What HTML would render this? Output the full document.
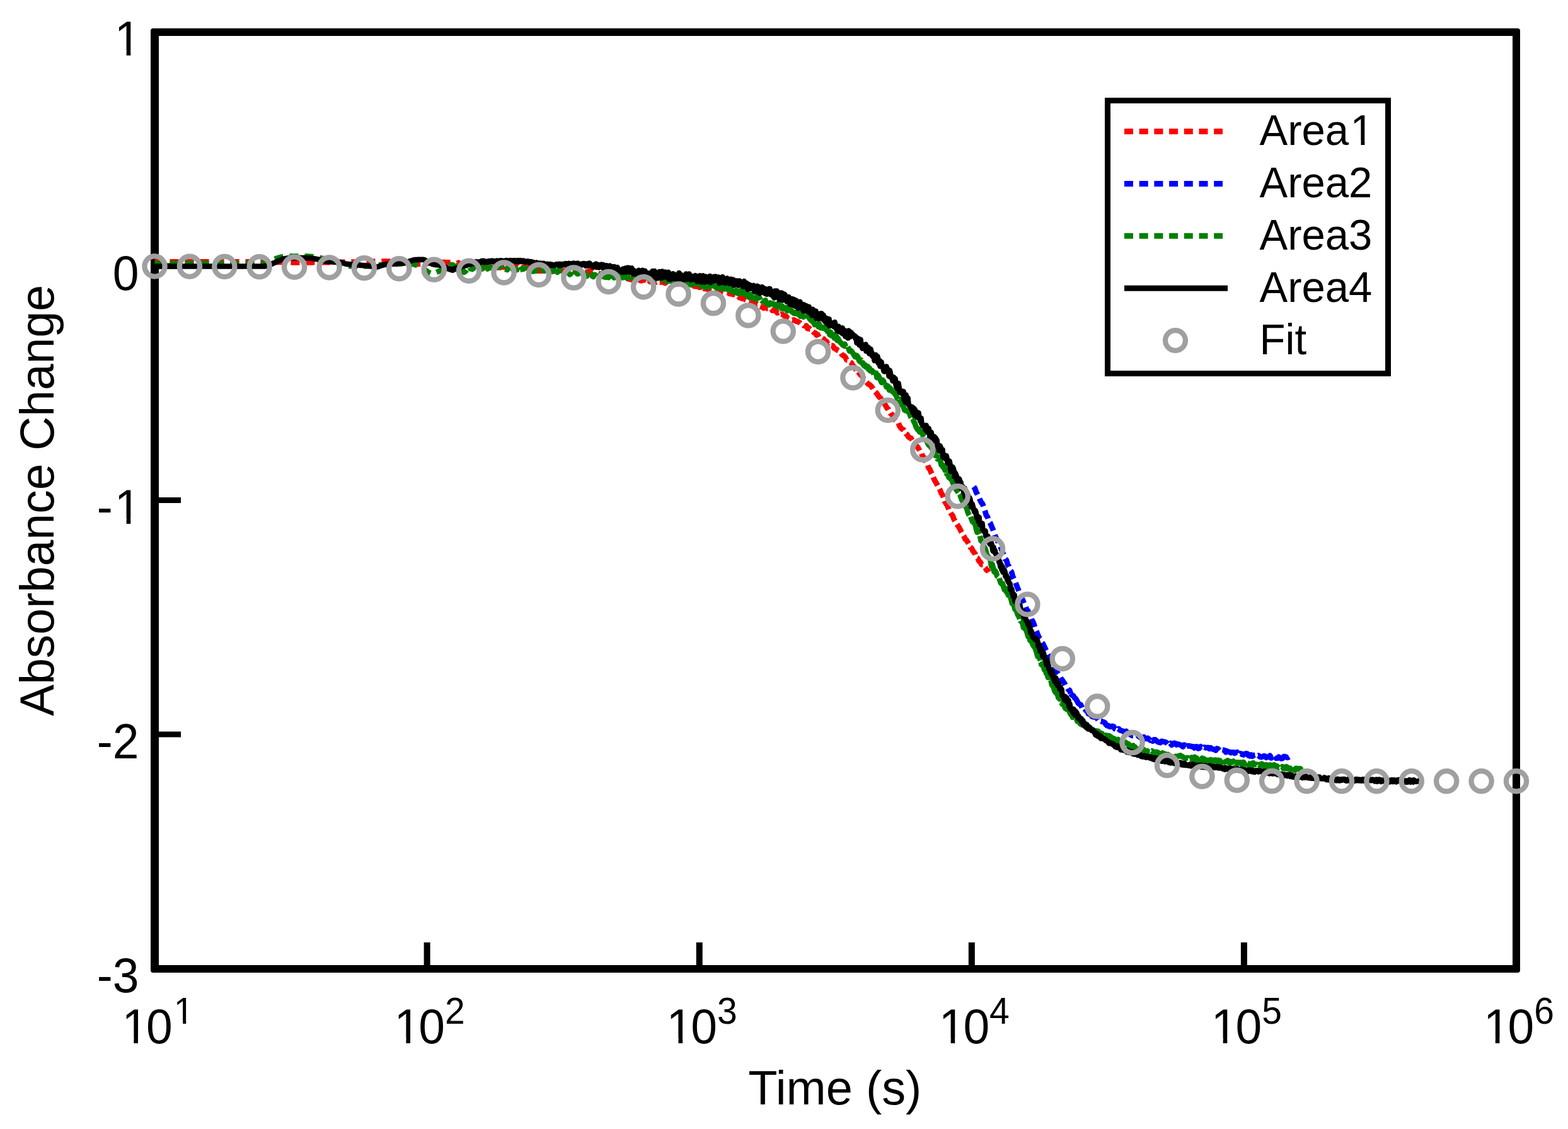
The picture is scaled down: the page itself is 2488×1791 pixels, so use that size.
<!DOCTYPE html>
<html><head><meta charset="utf-8"><title>Absorbance Change vs Time</title>
<style>
html,body{margin:0;padding:0;background:#fff;}
body{width:2488px;height:1791px;overflow:hidden;}
svg{display:block;}
text{font-family:"Liberation Sans",Arial,sans-serif;fill:#000;}
</style></head><body>
<svg width="2488" height="1791" viewBox="0 0 2488 1791">
<rect x="0" y="0" width="2488" height="1791" fill="#fff"/>

<path fill="#000" fill-rule="evenodd" d="M243,45 H2408 Q2412,45 2412,49 V1539 Q2412,1543 2408,1543 H243 Q239,1543 239,1539 V49 Q239,45 243,45 Z M252,57 V1531 H2400 V57 Z"/>
<rect x="250" y="417.5" width="37" height="9" fill="#000"/>
<rect x="250" y="789.0" width="37" height="9" fill="#000"/>
<rect x="250" y="1160.5" width="37" height="9" fill="#000"/>
<rect x="672.6" y="1495" width="10" height="38" fill="#000"/>
<rect x="1104.7" y="1495" width="10" height="38" fill="#000"/>
<rect x="1536.8" y="1495" width="10" height="38" fill="#000"/>
<rect x="1968.9" y="1495" width="10" height="38" fill="#000"/>
<g fill="none" stroke-width="8.7" stroke-linejoin="round" stroke-linecap="butt">
<polyline stroke="#ff0000" stroke-dasharray="14 10" points="245.5,415.3 247.5,415.3 249.5,415.3 251.5,415.3 253.5,415.3 255.5,415.3 257.5,415.3 259.5,415.3 261.5,415.3 263.5,415.3 265.5,415.3 267.5,415.3 269.5,415.3 271.5,415.3 273.5,415.3 275.5,415.3 277.5,415.3 279.5,415.3 281.5,415.3 283.5,415.3 285.5,415.3 287.5,415.3 289.5,415.3 291.5,415.3 293.5,415.3 295.5,415.3 297.5,415.3 299.5,415.3 301.5,415.3 303.5,415.3 305.5,415.3 307.5,415.3 309.5,415.3 311.5,415.3 313.5,415.3 315.5,415.3 317.5,415.3 319.5,415.3 321.5,415.3 323.5,415.3 325.5,415.3 327.5,415.3 329.5,415.3 331.5,415.3 333.5,415.3 335.5,415.3 337.5,415.3 339.5,415.4 341.5,415.4 343.5,415.4 345.5,415.4 347.5,415.4 349.5,415.4 351.5,415.4 353.5,415.4 355.5,415.4 357.5,415.4 359.5,415.4 361.5,415.4 363.5,415.4 365.5,415.4 367.5,415.4 369.5,415.4 371.5,415.4 373.5,415.4 375.5,415.4 377.5,415.4 379.5,415.4 381.5,415.4 383.5,415.4 385.5,415.4 387.5,415.4 389.5,415.4 391.5,415.4 393.5,415.4 395.5,415.4 397.5,415.4 399.5,415.5 401.5,415.5 403.5,415.5 405.5,415.5 407.5,415.5 409.5,415.5 411.5,415.5 413.5,415.5 415.5,415.5 417.5,415.5 419.5,415.5 421.5,415.5 423.5,415.5 425.5,415.5 427.5,415.6 429.5,415.6 431.5,415.6 433.5,415.7 435.5,415.7 437.5,415.7 439.5,415.8 441.5,415.8 443.5,415.9 445.5,415.9 447.5,416.0 449.5,416.0 451.5,416.1 453.5,416.1 455.5,416.1 457.5,416.2 459.5,416.2 461.5,416.2 463.5,416.3 465.5,416.3 467.5,416.3 469.5,416.3 471.5,416.3 473.5,416.3 475.5,416.3 477.5,416.3 479.5,416.3 481.5,416.3 483.5,416.3 485.5,416.3 487.5,416.3 489.5,416.3 491.5,416.3 493.5,416.3 495.5,416.3 497.5,416.2 499.5,416.2 501.5,416.2 503.5,416.2 505.5,416.2 507.5,416.2 509.5,416.2 511.5,416.2 513.5,416.2 515.5,416.2 517.5,416.1 519.5,416.1 521.5,416.1 523.5,416.1 525.5,416.1 527.5,416.1 529.5,416.1 531.5,416.1 533.5,416.0 535.5,416.0 537.5,416.0 539.5,416.0 541.5,416.0 543.5,416.0 545.5,415.9 547.5,415.9 549.5,415.9 551.5,415.8 553.5,415.8 555.5,415.8 557.5,415.7 559.5,415.7 561.5,415.6 563.5,415.6 565.5,415.5 567.5,415.5 569.5,415.4 571.5,415.3 573.5,415.3 575.5,415.2 577.5,415.2 579.5,415.1 581.5,415.1 583.5,415.0 585.5,414.9 587.5,414.9 589.5,414.8 591.5,414.8 593.5,414.8 595.5,414.7 597.5,414.7 599.5,414.6 601.5,414.6 603.5,414.6 605.5,414.5 607.5,414.5 609.5,414.5 611.5,414.5 613.5,414.5 615.5,414.5 617.5,414.6 619.5,414.7 621.5,414.8 623.5,415.0 625.5,415.2 627.5,415.4 629.5,415.7 631.5,416.0 633.5,416.2 635.5,416.5 637.5,416.8 639.5,417.1 641.5,417.4 643.5,417.7 645.5,417.9 647.5,418.2 649.5,418.4 651.5,418.6 653.5,418.8 655.5,418.9 657.5,419.0 659.5,419.0 661.5,419.0 663.5,418.9 665.5,418.8 667.5,418.7 669.5,418.6 671.5,418.4 673.5,418.2 675.5,418.0 677.5,417.8 679.5,417.6 681.5,417.3 683.5,417.1 685.5,416.9 687.5,416.7 689.5,416.5 691.5,416.3 693.5,416.2 695.5,416.1 697.5,416.0 699.5,416.0 701.5,416.0 703.5,416.0 705.5,416.2 707.5,416.2 709.5,416.6 711.5,416.1 713.5,416.7 715.5,416.6 717.5,416.7 719.5,416.8 721.5,417.9 723.5,417.0 725.5,417.9 727.5,416.8 729.5,419.0 731.5,418.9 733.5,418.8 735.5,418.6 737.5,418.5 739.5,418.9 741.5,419.9 743.5,419.8 745.5,421.2 747.5,419.8 749.5,421.8 751.5,420.4 753.5,420.3 755.5,420.5 757.5,421.2 759.5,423.4 761.5,423.3 763.5,423.3 765.5,422.2 767.5,422.0 769.5,422.6 771.5,423.5 773.5,422.1 775.5,423.2 777.5,422.8 779.5,424.0 781.5,423.7 783.5,422.2 785.5,422.8 787.5,424.3 789.5,424.5 791.5,423.4 793.5,424.4 795.5,422.6 797.5,423.2 799.5,423.9 801.5,422.1 803.5,423.6 805.5,424.6 807.5,422.7 809.5,422.1 811.5,424.0 813.5,424.1 815.5,422.9 817.5,423.2 819.5,423.3 821.5,422.5 823.5,424.5 825.5,423.0 827.5,424.7 829.5,424.4 831.5,422.9 833.5,425.0 835.5,423.5 837.5,425.3 839.5,424.0 841.5,425.9 843.5,425.9 845.5,426.6 847.5,427.7 849.5,428.1 851.5,426.5 853.5,427.2 855.5,430.0 857.5,428.6 859.5,429.9 861.5,429.2 863.5,430.0 865.5,428.0 867.5,429.4 869.5,430.2 871.5,429.2 873.5,430.2 875.5,430.6 877.5,430.6 879.5,428.9 881.5,431.0 883.5,430.1 885.5,428.9 887.5,430.8 889.5,429.2 891.5,429.5 893.5,429.8 895.5,430.1 897.5,429.1 899.5,431.2 901.5,431.1 903.5,429.6 905.5,431.6 907.5,429.0 909.5,429.2 911.5,431.2 913.5,429.6 915.5,429.6 917.5,429.1 919.5,430.1 921.5,429.4 923.5,431.1 925.5,429.3 927.5,430.7 929.5,432.1 931.5,431.3 933.5,430.7 935.5,430.2 937.5,432.9 939.5,430.3 941.5,432.0 943.5,431.8 945.5,433.3 947.5,433.0 949.5,434.4 951.5,434.7 953.5,434.4 955.5,434.0 957.5,434.5 959.5,436.0"/>
<polyline stroke="#ff0000" stroke-dasharray="15 6" points="959.5,436.0 961.5,435.8 963.5,436.3 965.5,437.2 967.5,435.9 969.5,437.7 971.5,437.8 973.5,437.1 975.5,438.6 977.5,437.0 979.5,437.2 981.5,440.1 983.5,440.8 985.5,439.5 987.5,439.7 989.5,439.6 991.5,442.1 993.5,440.3 995.5,441.8 997.5,442.6 999.5,441.8 1001.5,443.6 1003.5,442.0 1005.5,443.5 1007.5,442.1 1009.5,443.1 1011.5,444.0 1013.5,442.9 1015.5,444.8 1017.5,445.4 1019.5,443.6 1021.5,444.4 1023.5,443.2 1025.5,444.6 1027.5,445.3 1029.5,444.2 1031.5,446.9 1033.5,444.7 1035.5,445.8 1037.5,444.5 1039.5,445.6 1041.5,447.3 1043.5,446.3 1045.5,447.8 1047.5,447.9 1049.5,446.9 1051.5,446.3 1053.5,448.4 1055.5,449.0 1057.5,447.1 1059.5,446.8 1061.5,449.3 1063.5,448.8 1065.5,448.0 1067.5,448.0 1069.5,449.1 1071.5,450.7 1073.5,448.6 1075.5,450.5 1077.5,449.3 1079.5,450.6 1081.5,450.4 1083.5,451.0 1085.5,450.0 1087.5,452.5 1089.5,453.1 1091.5,451.9 1093.5,451.9 1095.5,453.4 1097.5,451.8 1099.5,451.9 1101.5,454.1 1103.5,453.9 1105.5,454.5 1107.5,453.1 1109.5,455.9 1111.5,455.7 1113.5,454.4 1115.5,456.5 1117.5,457.8 1119.5,456.0 1121.5,458.5 1123.5,459.0 1125.5,459.0 1127.5,458.4 1129.5,458.7 1131.5,458.9 1133.5,460.6 1135.5,459.2 1137.5,460.8 1139.5,461.3 1141.5,462.9 1143.5,463.4 1145.5,462.6 1147.5,463.5 1149.5,464.3 1151.5,464.3 1153.5,464.1 1155.5,464.3 1157.5,466.0 1159.5,466.2 1161.5,466.4 1163.5,467.3 1165.5,467.0 1167.5,469.3 1169.5,468.6 1171.5,469.5 1173.5,472.3 1175.5,471.1 1177.5,473.7 1179.5,473.8 1181.5,473.9 1183.5,475.7 1185.5,476.4 1187.5,478.5 1189.5,479.5 1191.5,479.0 1193.5,479.6 1195.5,481.2 1197.5,480.7 1199.5,482.8 1201.5,482.4 1203.5,483.8 1205.5,486.0 1207.5,486.8 1209.5,486.7 1211.5,488.8 1213.5,486.9 1215.5,488.0 1217.5,489.4 1219.5,489.5 1221.5,490.7 1223.5,489.8 1225.5,492.5 1227.5,491.7 1229.5,493.0 1231.5,493.7 1233.5,496.4 1235.5,495.4 1237.5,499.2 1239.5,498.4 1241.5,498.9 1243.5,500.2 1245.5,501.7 1247.5,501.9 1249.5,504.5 1251.5,505.5 1253.5,506.1 1255.5,507.8 1257.5,508.1 1259.5,507.3 1261.5,508.4 1263.5,509.8 1265.5,510.0 1267.5,511.1 1269.5,512.2 1271.5,514.1 1273.5,514.4 1275.5,516.5 1277.5,517.1 1279.5,516.7 1281.5,521.1 1283.5,520.1 1285.5,522.3 1287.5,522.6 1289.5,525.6 1291.5,527.6 1293.5,528.0 1295.5,531.5 1297.5,530.7 1299.5,534.7 1301.5,535.7 1303.5,535.3 1305.5,536.7 1307.5,538.1 1309.5,541.1 1311.5,541.6 1313.5,545.2 1315.5,544.2 1317.5,547.8 1319.5,548.0 1321.5,548.5 1323.5,552.3 1325.5,553.5 1327.5,554.1 1329.5,556.1 1331.5,557.2 1333.5,558.9 1335.5,562.0 1337.5,563.8 1339.5,564.6 1341.5,566.9 1343.5,571.0 1345.5,571.1 1347.5,573.6 1349.5,574.8 1351.5,576.6 1353.5,580.6 1355.5,581.7 1357.5,585.5 1359.5,586.3 1361.5,589.0 1363.5,592.2 1365.5,594.7 1367.5,596.0 1369.5,599.5 1371.5,601.4 1373.5,604.5 1375.5,606.7 1377.5,609.2 1379.5,610.0 1381.5,611.8 1383.5,614.0 1385.5,617.5 1387.5,620.2 1389.5,622.3 1391.5,624.5 1393.5,627.8 1395.5,630.1 1397.5,631.9 1399.5,637.0 1401.5,638.8 1403.5,640.5 1405.5,643.8 1407.5,647.4 1409.5,648.8 1411.5,652.9 1413.5,656.4 1415.5,657.6 1417.5,661.4 1419.5,665.4 1421.5,667.6 1423.5,669.5 1425.5,670.9 1427.5,676.2 1429.5,678.9 1431.5,680.7 1433.5,681.5 1435.5,684.9 1437.5,687.9 1439.5,689.5 1441.5,693.1 1443.5,694.4 1445.5,695.0 1447.5,698.3 1449.5,702.9 1451.5,705.5 1453.5,707.9 1455.5,708.5 1457.5,711.6 1459.5,715.6 1461.5,717.0 1463.5,722.9 1465.5,725.3 1467.5,729.7 1469.5,733.3 1471.5,736.6 1473.5,742.3 1475.5,744.5 1477.5,749.6 1479.5,753.5 1481.5,758.6 1483.5,762.8 1485.5,766.1 1487.5,769.7 1489.5,773.4 1491.5,777.0 1493.5,782.3 1495.5,785.1 1497.5,790.3 1499.5,796.2 1501.5,799.3 1503.5,802.6 1505.5,808.2 1507.5,812.3 1509.5,815.5 1511.5,817.8 1513.5,823.3 1515.5,826.8 1517.5,830.0 1519.5,833.1 1521.5,836.1 1523.5,839.8 1525.5,843.9 1527.5,847.4 1529.5,850.7 1531.5,855.1 1533.5,856.8 1535.5,859.8 1537.5,863.3 1539.5,867.9 1541.5,869.4 1543.5,873.5 1545.5,876.3 1547.5,878.9 1549.5,884.7 1551.5,885.8 1553.5,890.2 1555.5,891.6 1557.5,895.6 1559.5,895.6 1561.5,898.7 1563.5,900.7 1565.5,904.4 1567.5,905.1 1569.0,907.6"/>
<polyline stroke="#0000ff" stroke-dasharray="14 7" points="1545.0,772.1 1547.0,774.9 1549.0,780.8 1551.0,784.2 1553.0,788.3 1555.0,793.1 1557.0,797.0 1559.0,799.2 1561.0,804.7 1563.0,810.6 1565.0,817.7 1567.0,820.0 1569.0,826.8 1571.0,829.3 1573.0,833.9 1575.0,838.6 1577.0,843.7 1579.0,849.9 1581.0,854.6 1583.0,857.8 1585.0,864.6 1587.0,866.5 1589.0,871.0 1591.0,876.8 1593.0,880.8 1595.0,886.8 1597.0,888.7 1599.0,895.8 1601.0,898.7 1603.0,904.8 1605.0,907.1 1607.0,914.5 1609.0,918.9 1611.0,922.9 1613.0,928.5 1615.0,933.3 1617.0,938.4 1619.0,942.9 1621.0,948.7 1623.0,952.4 1625.0,957.5 1627.0,961.4 1629.0,967.3 1631.0,968.7 1633.0,975.0 1635.0,977.7 1637.0,983.3 1639.0,986.2 1641.0,991.4 1643.0,997.8 1645.0,1002.3 1647.0,1007.8 1649.0,1011.8 1651.0,1013.8 1653.0,1019.0 1655.0,1021.3 1657.0,1025.5 1659.0,1029.9 1661.0,1033.8 1663.0,1037.8 1665.0,1041.9 1667.0,1047.6 1669.0,1052.2 1671.0,1054.6 1673.0,1059.7 1675.0,1061.7 1677.0,1066.6 1679.0,1068.7 1681.0,1071.9 1683.0,1075.8 1685.0,1078.2 1687.0,1081.2 1689.0,1083.8 1691.0,1088.3 1693.0,1089.8 1695.0,1093.8 1697.0,1094.8 1699.0,1100.2"/>
<polyline stroke="#0000ff" stroke-dasharray="30 5" points="1699.0,1100.2 1701.0,1103.1 1703.0,1103.5 1705.0,1106.9 1707.0,1108.4 1709.0,1111.9 1711.0,1115.8 1713.0,1117.3 1715.0,1118.1 1717.0,1123.0 1719.0,1123.7 1721.0,1124.1 1723.0,1126.9 1725.0,1128.0 1727.0,1132.3 1729.0,1132.3 1731.0,1134.2 1733.0,1136.9 1735.0,1137.4 1737.0,1136.8 1739.0,1138.1 1741.0,1139.7 1743.0,1142.8 1745.0,1143.7 1747.0,1143.9 1749.0,1144.9 1751.0,1145.2 1753.0,1146.3 1755.0,1149.7 1757.0,1151.4 1759.0,1151.2 1761.0,1152.9 1763.0,1152.7 1765.0,1151.9 1767.0,1152.4 1769.0,1156.2 1771.0,1157.1 1773.0,1158.1 1775.0,1156.0 1777.0,1158.4 1779.0,1159.0 1781.0,1159.4 1783.0,1160.8 1785.0,1162.1 1787.0,1159.9 1789.0,1162.9 1791.0,1162.5 1793.0,1165.0 1795.0,1166.2 1797.0,1167.1 1799.0,1167.1 1801.0,1168.5 1803.0,1165.9 1805.0,1166.4 1807.0,1168.3 1809.0,1170.0 1811.0,1170.9 1813.0,1171.6 1815.0,1169.2 1817.0,1171.9 1819.0,1171.9 1821.0,1170.9 1823.0,1172.6 1825.0,1174.3 1827.0,1172.4 1829.0,1175.8 1831.0,1173.3 1833.0,1173.4 1835.0,1174.9 1837.0,1177.0 1839.0,1177.4 1841.0,1178.1 1843.0,1175.8 1845.0,1176.3 1847.0,1176.7 1849.0,1177.1 1851.0,1178.3 1853.0,1180.9 1855.0,1180.0 1857.0,1179.0 1859.0,1181.9 1861.0,1180.6 1863.0,1178.8 1865.0,1179.3 1867.0,1181.6 1869.0,1180.4 1871.0,1181.0 1873.0,1181.7 1875.0,1182.9 1877.0,1184.6 1879.0,1181.5 1881.0,1185.1 1883.0,1183.3 1885.0,1183.1 1887.0,1183.3 1889.0,1183.8 1891.0,1184.3 1893.0,1184.4 1895.0,1186.4 1897.0,1184.6 1899.0,1184.4 1901.0,1187.4 1903.0,1187.0 1905.0,1184.2 1907.0,1186.6 1909.0,1187.1 1911.0,1185.4 1913.0,1186.3 1915.0,1186.0 1917.0,1185.8 1919.0,1187.8 1921.0,1186.2 1923.0,1188.0 1925.0,1188.4 1927.0,1189.1 1929.0,1190.4 1931.0,1187.4 1933.0,1188.3 1935.0,1190.6 1937.0,1189.9 1939.0,1189.3 1941.0,1189.7 1943.0,1190.0 1945.0,1193.3 1947.0,1191.5 1949.0,1192.6 1951.0,1193.0 1953.0,1194.1 1955.0,1193.3 1957.0,1193.3 1959.0,1194.9 1961.0,1193.7 1963.0,1193.1 1965.0,1197.1 1967.0,1197.1 1969.0,1195.5 1971.0,1196.8 1973.0,1197.5 1975.0,1196.0 1977.0,1195.4 1979.0,1195.6 1981.0,1198.7 1983.0,1199.4 1985.0,1197.4 1987.0,1199.8 1989.0,1198.0 1991.0,1198.1 1993.0,1197.6 1995.0,1199.0 1997.0,1198.5 1999.0,1200.6 2001.0,1201.1 2003.0,1200.4 2005.0,1199.4 2007.0,1199.3 2009.0,1201.9 2011.0,1200.9 2013.0,1200.8 2015.0,1198.5 2017.0,1202.5 2019.0,1200.1 2021.0,1200.9 2023.0,1199.6 2025.0,1202.9 2027.0,1202.7 2029.0,1200.9 2031.0,1202.6 2033.0,1203.5 2035.0,1203.1 2037.0,1200.1 2039.0,1200.1 2041.0,1201.2 2043.0,1201.9 2045.0,1200.9 2045.5,1200.6"/>
<polyline stroke="#008000" stroke-dasharray="14 10" points="245.5,418.2 247.0,418.2 248.5,418.2 250.0,418.2 251.5,418.2 253.0,418.2 254.5,418.2 256.0,418.2 257.5,418.2 259.0,418.2 260.5,418.2 262.0,418.2 263.5,418.2 265.0,418.2 266.5,418.2 268.0,418.2 269.5,418.2 271.0,418.2 272.5,418.2 274.0,418.2 275.5,418.2 277.0,418.2 278.5,418.2 280.0,418.2 281.5,418.2 283.0,418.2 284.5,418.2 286.0,418.2 287.5,418.2 289.0,418.2 290.5,418.2 292.0,418.2 293.5,418.2 295.0,418.2 296.5,418.2 298.0,418.2 299.5,418.2 301.0,418.2 302.5,418.2 304.0,418.2 305.5,418.2 307.0,418.2 308.5,418.2 310.0,418.2 311.5,418.2 313.0,418.2 314.5,418.2 316.0,418.2 317.5,418.2 319.0,418.2 320.5,418.2 322.0,418.2 323.5,418.2 325.0,418.2 326.5,418.2 328.0,418.2 329.5,418.2 331.0,418.2 332.5,418.2 334.0,418.2 335.5,418.2 337.0,418.2 338.5,418.2 340.0,418.2 341.5,418.2 343.0,418.2 344.5,418.2 346.0,418.2 347.5,418.2 349.0,418.2 350.5,418.2 352.0,418.2 353.5,418.2 355.0,418.2 356.5,418.2 358.0,418.2 359.5,418.2 361.0,418.2 362.5,418.2 364.0,418.2 365.5,418.2 367.0,418.2 368.5,418.2 370.0,418.2 371.5,418.2 373.0,418.2 374.5,418.2 376.0,418.2 377.5,418.2 379.0,418.2 380.5,418.2 382.0,418.2 383.5,418.2 385.0,418.2 386.5,418.2 388.0,418.2 389.5,418.2 391.0,418.2 392.5,418.2 394.0,418.2 395.5,418.2 397.0,418.2 398.5,418.2 400.0,418.2 401.5,418.2 403.0,418.2 404.5,418.2 406.0,418.2 407.5,418.2 409.0,418.2 410.5,418.2 412.0,418.2 413.5,418.2 415.0,418.2 416.5,418.2 418.0,418.2 419.5,418.0 421.0,417.5 422.5,416.9 424.0,416.0 425.5,415.2 427.0,414.4 428.5,413.8 430.0,413.2 431.5,412.6 433.0,412.0 434.5,411.4 436.0,410.8 437.5,410.3 439.0,409.8 440.5,409.4 442.0,408.9 443.5,408.5 445.0,408.1 446.5,407.7 448.0,407.4 449.5,407.1 451.0,407.0 452.5,406.9 454.0,406.8 455.5,406.8 457.0,406.7 458.5,406.6 460.0,406.6 461.5,406.6 463.0,406.5 464.5,406.5 466.0,406.5 467.5,406.5 469.0,406.5 470.5,406.5 472.0,406.5 473.5,406.5 475.0,406.5 476.5,406.5 478.0,406.5 479.5,406.5 481.0,406.5 482.5,406.5 484.0,406.5 485.5,406.6 487.0,406.6 488.5,406.7 490.0,406.8 491.5,406.9 493.0,407.0 494.5,407.1 496.0,407.3 497.5,407.5 499.0,407.7 500.5,408.0 502.0,408.3 503.5,408.6 505.0,408.8 506.5,409.1 508.0,409.3 509.5,409.6 511.0,409.9 512.5,410.1 514.0,410.4 515.5,410.7 517.0,411.0 518.5,411.3 520.0,411.6 521.5,411.9 523.0,412.3 524.5,412.6 526.0,413.0 527.5,413.4 529.0,413.9 530.5,414.5 532.0,415.1 533.5,415.7 535.0,416.4 536.5,417.0 538.0,417.7 539.5,418.4 541.0,419.0 542.5,419.7 544.0,420.2 545.5,420.7 547.0,421.2 548.5,421.5 550.0,421.8 551.5,422.0 553.0,422.0 554.5,422.1 556.0,422.2 557.5,422.2 559.0,422.3 560.5,422.3 562.0,422.4 563.5,422.4 565.0,422.4 566.5,422.5 568.0,422.5 569.5,422.5 571.0,422.5 572.5,422.5 574.0,422.5 575.5,422.4 577.0,422.4 578.5,422.3 580.0,422.2 581.5,422.1 583.0,422.0 584.5,421.9 586.0,421.7 587.5,421.6 589.0,421.4 590.5,421.3 592.0,421.1 593.5,421.0 595.0,420.8 596.5,420.7 598.0,420.5 599.5,420.4 601.0,420.3 602.5,420.2 604.0,420.1 605.5,420.0 607.0,419.9 608.5,419.8 610.0,419.7 611.5,419.6 613.0,419.5 614.5,419.4 616.0,419.4 617.5,419.3 619.0,419.2 620.5,419.1 622.0,419.0 623.5,418.9 625.0,418.8 626.5,418.8 628.0,418.7 629.5,418.6 631.0,418.5 632.5,418.5 634.0,418.4 635.5,418.3 637.0,418.3 638.5,418.2 640.0,418.2 641.5,418.1 643.0,418.1 644.5,418.1 646.0,418.0 647.5,418.0 649.0,418.0 650.5,418.0 652.0,418.0 653.5,418.2 655.0,418.5 656.5,419.0 658.0,419.5 659.5,420.1 661.0,420.7 662.5,421.4 664.0,422.2 665.5,422.9 667.0,423.6 668.5,424.2 670.0,425.0 671.5,426.0 673.0,427.0 674.5,428.1 676.0,429.2 677.5,430.3 679.0,431.4 680.5,432.3 682.0,433.0 683.5,433.6 685.0,433.9 686.5,434.0 688.0,433.8 689.5,433.4 691.0,432.8 692.5,432.1 694.0,431.4 695.5,430.7 697.0,430.0 698.5,429.3 700.0,428.5 701.5,427.7 703.0,426.7 704.5,425.9 706.0,424.8 707.5,423.6 709.0,423.7 710.5,423.0 712.0,422.2 713.5,420.9 715.0,421.1 716.5,420.0 718.0,420.0 719.5,423.0 721.0,422.0 722.5,422.1 724.0,425.0 725.5,425.0 727.0,426.5 728.5,425.1 730.0,427.4 731.5,428.0 733.0,428.1 734.5,428.0 736.0,432.0 737.5,431.3 739.0,430.0 740.5,427.7 742.0,429.1 743.5,426.8 745.0,423.4 746.5,426.2 748.0,425.7 749.5,427.0 751.0,426.0 752.5,421.5 754.0,422.9 755.5,421.2 757.0,421.4 758.5,423.8 760.0,422.2 761.5,421.3 763.0,424.8 764.5,426.5 766.0,426.0 767.5,421.3 769.0,422.8 770.5,421.2 772.0,423.5 773.5,426.6 775.0,422.1 776.5,425.4 778.0,424.0 779.5,424.1 781.0,426.0 782.5,422.9 784.0,423.0 785.5,425.6 787.0,422.0 788.5,421.9 790.0,423.8 791.5,423.7 793.0,423.3 794.5,423.1 796.0,427.0 797.5,424.2 799.0,423.7 800.5,426.7 802.0,427.2 803.5,426.4 805.0,428.1 806.5,423.1 808.0,425.2 809.5,427.6 811.0,428.7 812.5,424.0 814.0,427.5 815.5,424.4 817.0,425.6 818.5,427.9 820.0,428.1 821.5,423.9 823.0,425.2 824.5,429.6 826.0,427.3 827.5,427.5 829.0,425.6 830.5,426.8 832.0,425.8 833.5,425.1 835.0,426.0 836.5,427.8 838.0,427.7 839.5,427.7 841.0,426.7 842.5,427.3 844.0,430.1 845.5,430.5 847.0,430.4 848.5,426.3 850.0,428.9 851.5,429.8 853.0,427.1 854.5,428.1 856.0,430.5 857.5,429.6 859.0,429.9 860.5,425.9 862.0,425.8 863.5,429.9 865.0,429.2 866.5,426.8 868.0,425.8 869.5,427.3 871.0,429.8 872.5,428.3 874.0,430.2 875.5,427.2 877.0,430.4 878.5,427.1 880.0,432.2 881.5,428.3 883.0,426.8 884.5,431.9 886.0,429.1 887.5,429.8 889.0,428.3 890.5,428.9 892.0,430.3 893.5,429.9 895.0,431.5 896.5,430.3 898.0,431.6 899.5,429.3 901.0,432.5 902.5,433.4 904.0,435.5 905.5,434.6 907.0,430.8 908.5,432.8 910.0,435.5 911.5,435.4 913.0,431.4 914.5,431.4 916.0,434.5 917.5,434.4 919.0,432.6 920.5,433.5 922.0,434.2 923.5,437.1 925.0,433.9 926.5,437.5 928.0,437.8 929.5,434.2 931.0,438.2 932.5,433.4 934.0,435.4 935.5,433.8 937.0,435.3 938.5,435.2 940.0,438.3 941.5,438.9 943.0,435.8 944.5,436.0 946.0,440.0 947.5,435.0 949.0,437.0 950.5,437.8 952.0,438.3 953.5,435.2 955.0,436.3 956.5,435.2 958.0,439.2 959.5,439.0"/>
<polyline stroke="#008000" stroke-dasharray="40 3" points="958.0,439.2 959.5,439.0 961.0,439.7 962.5,437.2 964.0,434.6 965.5,440.3 967.0,435.3 968.5,436.1 970.0,434.9 971.5,437.2 973.0,439.2 974.5,440.7 976.0,438.3 977.5,435.4 979.0,440.6 980.5,435.5 982.0,436.3 983.5,436.4 985.0,440.7 986.5,437.7 988.0,440.5 989.5,438.7 991.0,438.2 992.5,440.2 994.0,436.6 995.5,437.0 997.0,441.1 998.5,439.2 1000.0,437.8 1001.5,439.4 1003.0,440.3 1004.5,440.1 1006.0,438.8 1007.5,439.6 1009.0,437.1 1010.5,438.7 1012.0,441.4 1013.5,441.7 1015.0,435.9 1016.5,437.5 1018.0,437.6 1019.5,438.1 1021.0,438.0 1022.5,437.9 1024.0,439.2 1025.5,437.8 1027.0,441.1 1028.5,436.6 1030.0,442.8 1031.5,437.8 1033.0,442.5 1034.5,441.2 1036.0,442.7 1037.5,439.9 1039.0,439.3 1040.5,441.4 1042.0,438.8 1043.5,440.4 1045.0,441.4 1046.5,438.8 1048.0,443.5 1049.5,441.4 1051.0,442.1 1052.5,443.2 1054.0,444.9 1055.5,440.1 1057.0,440.7 1058.5,440.4 1060.0,446.2 1061.5,442.9 1063.0,445.0 1064.5,441.6 1066.0,446.8 1067.5,441.8 1069.0,445.6 1070.5,441.6 1072.0,447.3 1073.5,444.4 1075.0,446.2 1076.5,446.3 1078.0,443.9 1079.5,445.8 1081.0,443.0 1082.5,448.4 1084.0,446.5 1085.5,445.6 1087.0,446.6 1088.5,446.9 1090.0,445.5 1091.5,447.0 1093.0,449.3 1094.5,448.8 1096.0,451.8 1097.5,450.4 1099.0,451.2 1100.5,446.9 1102.0,449.6 1103.5,448.0 1105.0,448.1 1106.5,448.9 1108.0,450.8 1109.5,449.9 1111.0,450.1 1112.5,450.1 1114.0,454.4 1115.5,450.9 1117.0,454.4 1118.5,455.1 1120.0,452.9 1121.5,455.5 1123.0,455.9 1124.5,454.9 1126.0,454.4 1127.5,451.4 1129.0,451.4 1130.5,450.7 1132.0,452.1 1133.5,454.4 1135.0,454.1 1136.5,456.5 1138.0,453.7 1139.5,456.1 1141.0,454.6 1142.5,454.0 1144.0,458.0 1145.5,455.0 1147.0,456.8 1148.5,455.3 1150.0,458.3 1151.5,455.4 1153.0,455.0 1154.5,459.1 1156.0,458.5 1157.5,459.9 1159.0,456.4 1160.5,461.5 1162.0,456.9 1163.5,463.4 1165.0,463.7 1166.5,463.2 1168.0,460.3 1169.5,463.0 1171.0,465.8 1172.5,464.4 1174.0,464.5 1175.5,460.7 1177.0,461.3 1178.5,465.8 1180.0,465.2 1181.5,465.9 1183.0,464.4 1184.5,465.7 1186.0,470.2 1187.5,467.2 1189.0,471.9 1190.5,467.0 1192.0,470.0 1193.5,471.3 1195.0,472.2 1196.5,473.6 1198.0,473.9 1199.5,474.9 1201.0,470.3 1202.5,471.0 1204.0,471.9 1205.5,472.9 1207.0,477.1 1208.5,476.4 1210.0,478.1 1211.5,478.0 1213.0,478.3 1214.5,476.3 1216.0,481.4 1217.5,481.4 1219.0,481.8 1220.5,483.6 1222.0,480.4 1223.5,481.1 1225.0,482.0 1226.5,481.6 1228.0,483.2 1229.5,484.5 1231.0,484.7 1232.5,482.4 1234.0,486.6 1235.5,482.6 1237.0,484.0 1238.5,485.7 1240.0,489.2 1241.5,485.7 1243.0,490.1 1244.5,488.9 1246.0,490.2 1247.5,487.9 1249.0,493.1 1250.5,491.4 1252.0,488.0 1253.5,493.5 1255.0,491.8 1256.5,494.9 1258.0,494.6 1259.5,497.0 1261.0,497.3 1262.5,496.2 1264.0,497.6 1265.5,493.4 1267.0,499.2 1268.5,499.5 1270.0,501.7 1271.5,501.2 1273.0,501.0 1274.5,502.9 1276.0,502.5 1277.5,502.5 1279.0,506.8 1280.5,504.3 1282.0,502.4 1283.5,502.9 1285.0,506.1 1286.5,507.6 1288.0,509.2 1289.5,506.8 1291.0,511.1 1292.5,514.9 1294.0,514.4 1295.5,515.1 1297.0,514.7 1298.5,518.3 1300.0,513.8 1301.5,519.6 1303.0,520.2 1304.5,518.9 1306.0,520.7 1307.5,519.4 1309.0,519.4 1310.5,522.8 1312.0,523.9 1313.5,526.3 1315.0,526.1 1316.5,531.0 1318.0,526.9 1319.5,532.7 1321.0,531.9 1322.5,530.8 1324.0,536.5 1325.5,535.5 1327.0,533.5 1328.5,540.1 1330.0,537.2 1331.5,540.5 1333.0,542.6 1334.5,544.3 1336.0,545.5 1337.5,547.6 1339.0,548.5 1340.5,545.8 1342.0,549.8 1343.5,550.7 1345.0,549.6 1346.5,553.1 1348.0,556.9 1349.5,556.0 1351.0,557.1 1352.5,559.1 1354.0,561.2 1355.5,564.0 1357.0,566.1 1358.5,563.5 1360.0,564.8 1361.5,566.6 1363.0,571.9 1364.5,573.6 1366.0,571.1 1367.5,576.0 1369.0,575.4 1370.5,579.7 1372.0,578.4 1373.5,582.1 1375.0,581.1 1376.5,581.0 1378.0,585.9 1379.5,583.8 1381.0,588.3 1382.5,587.9 1384.0,587.9 1385.5,590.4 1387.0,594.8 1388.5,591.9 1390.0,591.9 1391.5,599.1 1393.0,595.0 1394.5,597.2 1396.0,600.5 1397.5,604.0 1399.0,606.9 1400.5,602.9 1402.0,604.8 1403.5,611.6 1405.0,610.2 1406.5,613.8 1408.0,612.0 1409.5,613.1 1411.0,618.8 1412.5,615.8 1414.0,617.9 1415.5,620.4 1417.0,621.9 1418.5,622.5 1420.0,625.2 1421.5,626.2 1423.0,630.6 1424.5,633.7 1426.0,634.4 1427.5,633.3 1429.0,639.0 1430.5,642.0 1432.0,640.3 1433.5,644.6 1435.0,650.2 1436.5,651.3 1438.0,650.9 1439.5,651.8 1441.0,653.3 1442.5,654.7 1444.0,658.3 1445.5,662.3 1447.0,664.7 1448.5,664.6 1450.0,668.9 1451.5,671.1 1453.0,675.9 1454.5,679.0 1456.0,681.5 1457.5,680.4 1459.0,685.2 1460.5,685.8 1462.0,684.4 1463.5,686.4 1465.0,692.3 1466.5,695.1 1468.0,697.1 1469.5,698.1 1471.0,701.1 1472.5,703.9 1474.0,706.4 1475.5,704.7 1477.0,709.3 1478.5,710.5 1480.0,713.8 1481.5,715.5 1483.0,715.5 1484.5,722.8 1486.0,723.3 1487.5,728.1 1489.0,724.6 1490.5,727.3 1492.0,729.8 1493.5,737.4 1495.0,737.2 1496.5,741.3 1498.0,739.0 1499.5,746.1 1501.0,743.9 1502.5,752.2 1504.0,751.8 1505.5,757.4 1507.0,757.6 1508.5,759.9 1510.0,759.3 1511.5,765.1 1513.0,768.5 1514.5,770.1 1516.0,773.3 1517.5,777.3 1519.0,778.7 1520.5,781.0 1522.0,783.0 1523.5,785.3 1525.0,789.9 1526.5,793.6 1528.0,795.8 1529.5,794.4 1531.0,798.4 1532.5,804.0 1534.0,806.7 1535.5,812.2 1537.0,815.8 1538.5,818.3 1540.0,819.5 1541.5,823.5 1543.0,827.6 1544.5,825.9 1546.0,830.3 1547.5,831.6 1549.0,839.1 1550.5,844.5 1552.0,841.5 1553.5,845.9 1555.0,850.0 1556.5,857.7 1558.0,858.6 1559.5,861.1 1561.0,866.1 1562.5,869.0 1564.0,872.7 1565.5,878.5 1567.0,882.8 1568.5,883.4 1570.0,888.9 1571.5,888.6 1573.0,898.2 1574.5,895.3 1576.0,901.4 1577.5,907.2 1579.0,905.4 1580.5,907.9 1582.0,913.7 1583.5,914.5 1585.0,915.8 1586.5,920.5 1588.0,924.8 1589.5,926.4 1591.0,926.1 1592.5,931.5 1594.0,935.8 1595.5,933.3 1597.0,938.9 1598.5,940.5 1600.0,944.3 1601.5,943.6 1603.0,947.2 1604.5,951.1 1606.0,957.5 1607.5,957.7 1609.0,960.7 1610.5,966.7 1612.0,966.1 1613.5,970.6 1615.0,975.4 1616.5,977.4 1618.0,982.2 1619.5,985.4 1621.0,985.5 1622.5,988.6 1624.0,995.9 1625.5,996.6 1627.0,997.7 1628.5,1000.0 1630.0,1004.8 1631.5,1010.1 1633.0,1008.5 1634.5,1016.2 1636.0,1012.7 1637.5,1019.3 1639.0,1023.1 1640.5,1025.4 1642.0,1027.0 1643.5,1030.9 1645.0,1035.8 1646.5,1041.4 1648.0,1041.7 1649.5,1044.4 1651.0,1047.8 1652.5,1054.5 1654.0,1052.8 1655.5,1055.1 1657.0,1062.5 1658.5,1060.6 1660.0,1068.0 1661.5,1069.6 1663.0,1074.7 1664.5,1073.8 1666.0,1080.4 1667.5,1079.0 1669.0,1086.6 1670.5,1087.1 1672.0,1091.2 1673.5,1096.4 1675.0,1098.4 1676.5,1100.0 1678.0,1101.7 1679.5,1107.1 1681.0,1107.9 1682.5,1109.0 1684.0,1112.3 1685.5,1117.1 1687.0,1114.9 1688.5,1118.7 1690.0,1123.2 1691.5,1124.5 1693.0,1125.3 1694.5,1125.4 1696.0,1126.4 1697.5,1130.2 1699.0,1133.5 1700.5,1132.5 1702.0,1137.8 1703.5,1137.5 1705.0,1137.9 1706.5,1141.0 1708.0,1139.6 1709.5,1144.3 1711.0,1142.5 1712.5,1141.5 1714.0,1148.3 1715.5,1146.5 1717.0,1149.9 1718.5,1146.4 1720.0,1147.9 1721.5,1150.4 1723.0,1153.6 1724.5,1150.0 1726.0,1153.3 1727.5,1155.4 1729.0,1154.2 1730.5,1155.3 1732.0,1158.8 1733.5,1157.4 1735.0,1159.0 1736.5,1159.7 1738.0,1161.6 1739.5,1159.4 1741.0,1161.2 1742.5,1160.1 1744.0,1161.5 1745.5,1164.7 1747.0,1166.1 1748.5,1163.5 1750.0,1166.4 1751.5,1165.9 1753.0,1167.3 1754.5,1166.3 1756.0,1166.9 1757.5,1166.8 1759.0,1168.9 1760.5,1167.3 1762.0,1171.9 1763.5,1169.4 1765.0,1171.9 1766.5,1171.9 1768.0,1171.7 1769.5,1175.2 1771.0,1175.4 1772.5,1175.4 1774.0,1172.9 1775.5,1175.2 1777.0,1176.8 1778.5,1174.7 1780.0,1178.3 1781.5,1179.6 1783.0,1180.9 1784.5,1179.3 1786.0,1177.6 1787.5,1179.1 1789.0,1182.7"/>
<polyline stroke="#008000" stroke-dasharray="26 4" points="1789.0,1182.7 1790.5,1180.0 1792.0,1183.0 1793.5,1183.7 1795.0,1183.3 1796.5,1185.5 1798.0,1182.7 1799.5,1185.7 1801.0,1185.0 1802.5,1187.9 1804.0,1186.1 1805.5,1185.6 1807.0,1186.8 1808.5,1188.2 1810.0,1186.4 1811.5,1190.8 1813.0,1190.2 1814.5,1188.9 1816.0,1190.8 1817.5,1193.1 1819.0,1191.7 1820.5,1191.1 1822.0,1192.9 1823.5,1193.7 1825.0,1193.7 1826.5,1191.7 1828.0,1191.1 1829.5,1193.0 1831.0,1193.9 1832.5,1196.2 1834.0,1192.8 1835.5,1196.9 1837.0,1193.3 1838.5,1194.8 1840.0,1195.5 1841.5,1198.4 1843.0,1198.7 1844.5,1194.4 1846.0,1195.4 1847.5,1196.9 1849.0,1196.2 1850.5,1199.9 1852.0,1198.4 1853.5,1197.1 1855.0,1198.7 1856.5,1199.3 1858.0,1200.4 1859.5,1200.7 1861.0,1198.6 1862.5,1200.5 1864.0,1201.7 1865.5,1199.7 1867.0,1200.9 1868.5,1199.9 1870.0,1199.5 1871.5,1198.8 1873.0,1198.4 1874.5,1199.8 1876.0,1200.1 1877.5,1201.4 1879.0,1202.1 1880.5,1202.5 1882.0,1203.0 1883.5,1202.2 1885.0,1202.1 1886.5,1202.8 1888.0,1203.4 1889.5,1204.3 1891.0,1201.5 1892.5,1204.8 1894.0,1201.6 1895.5,1200.9 1897.0,1205.0 1898.5,1202.4 1900.0,1205.6 1901.5,1203.4 1903.0,1203.5 1904.5,1206.3 1906.0,1205.9 1907.5,1202.6 1909.0,1207.2 1910.5,1203.7 1912.0,1206.2 1913.5,1207.7 1915.0,1207.4 1916.5,1205.8 1918.0,1208.3 1919.5,1207.1 1921.0,1205.1 1922.5,1208.8 1924.0,1207.0 1925.5,1206.0 1927.0,1206.7 1928.5,1205.6 1930.0,1207.7 1931.5,1207.8 1933.0,1205.9 1934.5,1207.3 1936.0,1206.7 1937.5,1210.0 1939.0,1206.6 1940.5,1208.8 1942.0,1209.1 1943.5,1209.1 1945.0,1208.1 1946.5,1207.6 1948.0,1206.5 1949.5,1207.6 1951.0,1210.8 1952.5,1208.2 1954.0,1209.6 1955.5,1208.6 1957.0,1207.6 1958.5,1209.5 1960.0,1212.4 1961.5,1209.6 1963.0,1209.4 1964.5,1210.7 1966.0,1209.8 1967.5,1209.3 1969.0,1210.2 1970.5,1212.9 1972.0,1209.2 1973.5,1209.3 1975.0,1212.5 1976.5,1209.8 1978.0,1209.7 1979.5,1210.4 1981.0,1213.7 1982.5,1214.1 1984.0,1214.2 1985.5,1211.2 1987.0,1214.3 1988.5,1210.2 1990.0,1212.4 1991.5,1212.9 1993.0,1212.5 1994.5,1215.3 1996.0,1214.3 1997.5,1213.0 1999.0,1214.4 2000.5,1214.7 2002.0,1211.6 2003.5,1212.8 2005.0,1213.0 2006.5,1216.2 2008.0,1215.9 2009.5,1213.2 2011.0,1216.8 2012.5,1212.4 2014.0,1213.9 2015.5,1213.3 2017.0,1215.1 2018.5,1217.2 2020.0,1216.8 2021.5,1213.2 2023.0,1214.5 2024.5,1217.4 2026.0,1215.1 2027.5,1218.0 2029.0,1217.3 2030.5,1217.9 2032.0,1218.2 2033.5,1217.8 2035.0,1216.1 2036.5,1219.4 2038.0,1218.4 2039.5,1219.4 2041.0,1216.1 2042.5,1217.1 2044.0,1219.2 2045.5,1220.5 2047.0,1218.5 2048.5,1220.6 2050.0,1216.9 2051.5,1217.2 2053.0,1220.5 2054.5,1222.1 2056.0,1218.8 2057.5,1219.0 2059.0,1219.1 2060.5,1220.3 2062.0,1219.4 2063.5,1219.3 2064.8,1221.3"/>
<polyline stroke="#000000" points="245.5,422.5 246.5,422.5 247.5,422.5 248.5,422.5 249.5,422.5 250.5,422.5 251.5,422.5 252.5,422.5 253.5,422.5 254.5,422.5 255.5,422.5 256.5,422.5 257.5,422.5 258.5,422.5 259.5,422.5 260.5,422.5 261.5,422.5 262.5,422.5 263.5,422.5 264.5,422.5 265.5,422.5 266.5,422.5 267.5,422.5 268.5,422.5 269.5,422.5 270.5,422.5 271.5,422.5 272.5,422.5 273.5,422.5 274.5,422.5 275.5,422.5 276.5,422.5 277.5,422.5 278.5,422.5 279.5,422.5 280.5,422.5 281.5,422.5 282.5,422.5 283.5,422.5 284.5,422.5 285.5,422.5 286.5,422.5 287.5,422.5 288.5,422.5 289.5,422.5 290.5,422.5 291.5,422.5 292.5,422.5 293.5,422.5 294.5,422.5 295.5,422.5 296.5,422.5 297.5,422.5 298.5,422.5 299.5,422.5 300.5,422.5 301.5,422.5 302.5,422.5 303.5,422.5 304.5,422.5 305.5,422.5 306.5,422.5 307.5,422.5 308.5,422.5 309.5,422.5 310.5,422.5 311.5,422.5 312.5,422.5 313.5,422.5 314.5,422.5 315.5,422.5 316.5,422.5 317.5,422.5 318.5,422.5 319.5,422.5 320.5,422.5 321.5,422.5 322.5,422.5 323.5,422.5 324.5,422.5 325.5,422.5 326.5,422.5 327.5,422.5 328.5,422.5 329.5,422.5 330.5,422.5 331.5,422.5 332.5,422.5 333.5,422.5 334.5,422.5 335.5,422.5 336.5,422.5 337.5,422.5 338.5,422.5 339.5,422.5 340.5,422.5 341.5,422.5 342.5,422.5 343.5,422.5 344.5,422.5 345.5,422.5 346.5,422.5 347.5,422.5 348.5,422.5 349.5,422.5 350.5,422.5 351.5,422.5 352.5,422.5 353.5,422.5 354.5,422.5 355.5,422.5 356.5,422.5 357.5,422.5 358.5,422.5 359.5,422.5 360.5,422.5 361.5,422.5 362.5,422.5 363.5,422.5 364.5,422.5 365.5,422.5 366.5,422.5 367.5,422.5 368.5,422.5 369.5,422.5 370.5,422.5 371.5,422.5 372.5,422.5 373.5,422.5 374.5,422.5 375.5,422.5 376.5,422.5 377.5,422.5 378.5,422.5 379.5,422.5 380.5,422.5 381.5,422.5 382.5,422.5 383.5,422.5 384.5,422.5 385.5,422.5 386.5,422.5 387.5,422.5 388.5,422.5 389.5,422.5 390.5,422.5 391.5,422.5 392.5,422.5 393.5,422.5 394.5,422.5 395.5,422.5 396.5,422.5 397.5,422.5 398.5,422.5 399.5,422.5 400.5,422.5 401.5,422.5 402.5,422.5 403.5,422.5 404.5,422.5 405.5,422.5 406.5,422.5 407.5,422.5 408.5,422.5 409.5,422.5 410.5,422.5 411.5,422.5 412.5,422.5 413.5,422.5 414.5,422.5 415.5,422.5 416.5,422.5 417.5,422.5 418.5,422.5 419.5,422.4 420.5,422.3 421.5,422.0 422.5,421.8 423.5,421.5 424.5,421.2 425.5,420.8 426.5,420.5 427.5,420.2 428.5,419.8 429.5,419.5 430.5,419.1 431.5,418.7 432.5,418.2 433.5,417.7 434.5,417.2 435.5,416.8 436.5,416.3 437.5,415.8 438.5,415.3 439.5,414.9 440.5,414.5 441.5,414.1 442.5,413.6 443.5,413.2 444.5,412.7 445.5,412.3 446.5,411.8 447.5,411.5 448.5,411.1 449.5,410.8 450.5,410.6 451.5,410.4 452.5,410.3 453.5,410.1 454.5,410.0 455.5,409.8 456.5,409.7 457.5,409.6 458.5,409.4 459.5,409.3 460.5,409.2 461.5,409.2 462.5,409.1 463.5,409.1 464.5,409.0 465.5,409.0 466.5,409.0 467.5,409.0 468.5,409.0 469.5,409.0 470.5,409.0 471.5,409.0 472.5,409.0 473.5,409.1 474.5,409.1 475.5,409.1 476.5,409.1 477.5,409.1 478.5,409.1 479.5,409.2 480.5,409.2 481.5,409.2 482.5,409.2 483.5,409.2 484.5,409.3 485.5,409.3 486.5,409.4 487.5,409.4 488.5,409.5 489.5,409.5 490.5,409.6 491.5,409.6 492.5,409.7 493.5,409.8 494.5,409.9 495.5,410.0 496.5,410.2 497.5,410.3 498.5,410.4 499.5,410.6 500.5,410.8 501.5,410.9 502.5,411.1 503.5,411.3 504.5,411.5 505.5,411.7 506.5,412.0 507.5,412.2 508.5,412.5 509.5,412.8 510.5,413.0 511.5,413.3 512.5,413.5 513.5,413.7 514.5,413.9 515.5,414.1 516.5,414.2 517.5,414.4 518.5,414.5 519.5,414.6 520.5,414.8 521.5,414.9 522.5,415.0 523.5,415.1 524.5,415.2 525.5,415.3 526.5,415.4 527.5,415.5 528.5,415.5 529.5,415.6 530.5,415.6 531.5,415.7 532.5,415.7 533.5,415.7 534.5,415.7 535.5,415.8 536.5,415.8 537.5,415.9 538.5,415.9 539.5,416.0 540.5,416.1 541.5,416.2 542.5,416.5 543.5,416.8 544.5,417.1 545.5,417.5 546.5,417.9 547.5,418.2 548.5,418.5 549.5,418.7 550.5,418.9 551.5,419.0 552.5,419.1 553.5,419.2 554.5,419.3 555.5,419.4 556.5,419.5 557.5,419.6 558.5,419.7 559.5,419.8 560.5,419.8 561.5,419.9 562.5,420.0 563.5,420.1 564.5,420.2 565.5,420.2 566.5,420.3 567.5,420.4 568.5,420.5 569.5,420.5 570.5,420.6 571.5,420.7 572.5,420.8 573.5,420.9 574.5,421.0 575.5,421.0 576.5,421.1 577.5,421.2 578.5,421.3 579.5,421.4 580.5,421.5 581.5,421.6 582.5,421.8 583.5,421.9 584.5,422.0 585.5,422.1 586.5,422.2 587.5,422.3 588.5,422.4 589.5,422.5 590.5,422.7 591.5,422.8 592.5,423.0 593.5,423.2 594.5,423.3 595.5,423.4 596.5,423.5 597.5,423.5 598.5,423.4 599.5,423.2 600.5,422.9 601.5,422.5 602.5,422.2 603.5,421.8 604.5,421.4 605.5,421.1 606.5,420.9 607.5,420.6 608.5,420.3 609.5,420.1 610.5,419.8 611.5,419.6 612.5,419.4 613.5,419.2 614.5,419.0 615.5,419.0 616.5,418.9 617.5,418.8 618.5,418.8 619.5,418.7 620.5,418.7 621.5,418.6 622.5,418.6 623.5,418.6 624.5,418.5 625.5,418.5 626.5,418.5 627.5,418.4 628.5,418.4 629.5,418.3 630.5,418.3 631.5,418.2 632.5,418.1 633.5,418.1 634.5,418.0 635.5,417.9 636.5,417.8 637.5,417.7 638.5,417.6 639.5,417.5 640.5,417.4 641.5,417.2 642.5,417.0 643.5,416.7 644.5,416.4 645.5,416.0 646.5,415.6 647.5,415.2 648.5,414.9 649.5,414.5 650.5,414.3 651.5,414.0 652.5,413.7 653.5,413.3 654.5,413.0 655.5,412.8 656.5,412.5 657.5,412.3 658.5,412.1 659.5,412.0 660.5,412.0 661.5,412.0 662.5,411.9 663.5,411.9 664.5,411.9 665.5,411.9 666.5,411.8 667.5,411.8 668.5,411.8 669.5,411.8 670.5,411.8 671.5,411.8 672.5,412.0 673.5,412.4 674.5,412.8 675.5,413.3 676.5,413.9 677.5,414.4 678.5,414.8 679.5,415.3 680.5,415.9 681.5,416.5 682.5,417.1 683.5,417.6 684.5,418.2 685.5,418.7 686.5,419.1 687.5,419.4 688.5,419.6 689.5,419.8 690.5,419.9 691.5,420.0 692.5,420.1 693.5,420.2 694.5,420.3 695.5,420.4 696.5,420.5 697.5,420.6 698.5,420.8 699.5,420.9 700.5,421.1 701.5,421.4 702.5,421.8 703.5,422.2 704.5,422.7 705.5,423.1 706.5,423.7 707.5,424.8 708.5,425.2 709.5,425.8 710.5,425.5 711.5,426.5 712.5,426.8 713.5,426.7 714.5,427.5 715.5,427.1 716.5,427.5 717.5,428.6 718.5,428.3 719.5,428.3 720.5,426.6 721.5,426.6 722.5,425.9 723.5,425.8 724.5,425.5 725.5,427.1 726.5,426.6 727.5,424.5 728.5,424.1 729.5,425.4 730.5,424.0 731.5,423.0 732.5,422.8 733.5,421.8 734.5,422.1 735.5,422.1 736.5,421.2 737.5,421.5 738.5,419.5 739.5,420.4 740.5,421.1 741.5,418.8 742.5,419.4 743.5,419.4 744.5,418.5 745.5,419.7 746.5,418.3 747.5,418.0 748.5,418.8 749.5,416.4 750.5,418.2 751.5,416.2 752.5,416.6 753.5,416.6 754.5,416.4 755.5,415.2 756.5,415.6 757.5,415.6 758.5,416.8 759.5,416.6 760.5,415.6 761.5,416.4 762.5,416.1 763.5,414.8 764.5,414.1 765.5,415.3 766.5,414.6 767.5,413.8 768.5,416.1 769.5,416.0 770.5,415.0 771.5,415.1 772.5,415.3 773.5,415.8 774.5,414.7 775.5,415.0 776.5,414.1 777.5,414.1 778.5,414.8 779.5,414.1 780.5,413.6 781.5,414.4 782.5,415.3 783.5,414.2 784.5,415.5 785.5,415.2 786.5,415.0 787.5,415.6 788.5,413.6 789.5,413.9 790.5,415.6 791.5,415.6 792.5,413.6 793.5,415.2 794.5,413.4 795.5,413.7 796.5,413.6 797.5,414.0 798.5,414.2 799.5,415.5 800.5,414.3 801.5,413.6 802.5,413.9 803.5,413.2 804.5,413.3 805.5,414.2 806.5,414.4 807.5,413.7 808.5,414.0 809.5,413.3 810.5,414.6 811.5,414.0 812.5,413.4 813.5,414.2 814.5,413.4 815.5,413.6 816.5,413.2 817.5,414.8 818.5,413.5 819.5,415.1 820.5,413.8 821.5,413.2 822.5,414.5 823.5,414.6 824.5,414.9 825.5,413.1 826.5,414.7 827.5,414.9 828.5,413.6 829.5,414.0 830.5,414.5 831.5,413.7 832.5,415.3 833.5,415.1 834.5,415.6 835.5,414.8 836.5,415.1 837.5,414.5 838.5,415.0 839.5,416.2 840.5,416.9 841.5,415.2 842.5,415.1 843.5,415.4 844.5,416.4 845.5,417.5 846.5,416.3 847.5,417.1 848.5,417.3 849.5,418.3 850.5,416.8 851.5,416.6 852.5,417.9 853.5,417.6 854.5,417.6 855.5,418.9 856.5,418.8 857.5,417.5 858.5,418.8 859.5,419.5 860.5,419.9 861.5,417.8 862.5,419.9 863.5,418.2 864.5,419.9 865.5,419.8 866.5,420.7 867.5,420.1 868.5,418.8 869.5,420.4 870.5,419.5 871.5,420.9 872.5,419.1 873.5,419.8 874.5,420.7 875.5,419.5 876.5,420.7 877.5,420.9 878.5,421.0 879.5,421.3 880.5,420.2 881.5,419.5 882.5,419.7 883.5,420.0 884.5,419.1 885.5,420.6 886.5,419.0 887.5,418.9 888.5,421.0 889.5,420.6 890.5,419.2 891.5,419.3 892.5,420.4 893.5,419.8 894.5,418.9 895.5,419.3 896.5,420.2 897.5,418.1 898.5,420.4 899.5,419.3 900.5,418.3 901.5,419.8 902.5,417.9 903.5,418.8 904.5,419.2 905.5,418.3 906.5,420.1 907.5,419.6 908.5,418.0 909.5,417.9 910.5,417.6 911.5,419.3 912.5,418.0 913.5,419.3 914.5,420.3 915.5,420.6 916.5,417.7 917.5,418.6 918.5,418.9 919.5,418.8 920.5,419.0 921.5,419.2 922.5,420.5 923.5,418.6 924.5,418.8 925.5,419.0 926.5,418.0 927.5,420.3 928.5,419.2 929.5,421.8 930.5,421.4 931.5,418.4 932.5,418.5 933.5,421.5 934.5,420.4 935.5,417.5 936.5,421.0 937.5,419.8 938.5,422.1 939.5,422.0 940.5,423.2 941.5,422.0 942.5,423.5 943.5,419.8 944.5,420.3 945.5,418.7 946.5,424.0 947.5,419.5 948.5,422.3 949.5,422.2 950.5,424.4 951.5,421.7 952.5,420.1 953.5,422.0 954.5,419.7 955.5,421.7 956.5,424.2 957.5,420.2 958.5,427.2 959.5,424.0 960.5,422.4 961.5,426.6 962.5,421.3 963.5,422.9 964.5,427.9 965.5,422.5 966.5,426.6 967.5,421.5 968.5,425.3 969.5,426.5 970.5,422.9 971.5,424.1 972.5,426.1 973.5,426.6 974.5,423.0 975.5,425.4 976.5,430.8 977.5,424.9 978.5,429.2 979.5,424.0 980.5,426.6 981.5,427.3 982.5,428.2 983.5,429.5 984.5,430.5 985.5,429.7 986.5,430.9 987.5,431.9 988.5,426.5 989.5,431.7 990.5,428.8 991.5,426.3 992.5,425.5 993.5,431.8 994.5,430.6 995.5,424.8 996.5,430.5 997.5,424.8 998.5,428.7 999.5,430.8 1000.5,431.8 1001.5,426.5 1002.5,425.4 1003.5,431.5 1004.5,434.3 1005.5,434.2 1006.5,429.5 1007.5,432.1 1008.5,433.8 1009.5,435.6 1010.5,431.6 1011.5,436.0 1012.5,429.9 1013.5,429.0 1014.5,429.9 1015.5,434.9 1016.5,436.8 1017.5,432.3 1018.5,434.9 1019.5,428.9 1020.5,433.1 1021.5,432.4 1022.5,432.5 1023.5,429.9 1024.5,434.9 1025.5,435.6 1026.5,435.3 1027.5,436.6 1028.5,433.5 1029.5,438.0 1030.5,435.0 1031.5,438.6 1032.5,433.4 1033.5,436.8 1034.5,431.2 1035.5,430.1 1036.5,439.7 1037.5,433.5 1038.5,430.0 1039.5,436.5 1040.5,440.2 1041.5,438.4 1042.5,441.0 1043.5,440.5 1044.5,435.2 1045.5,432.8 1046.5,431.0 1047.5,433.4 1048.5,437.6 1049.5,440.8 1050.5,430.6 1051.5,440.0 1052.5,439.4 1053.5,438.7 1054.5,432.4 1055.5,431.6 1056.5,439.5 1057.5,438.5 1058.5,435.5 1059.5,435.3 1060.5,431.9 1061.5,442.9 1062.5,441.2 1063.5,442.9 1064.5,441.2 1065.5,437.2 1066.5,441.7 1067.5,434.4 1068.5,439.9 1069.5,435.0 1070.5,436.8 1071.5,442.4 1072.5,437.4 1073.5,442.9 1074.5,439.6 1075.5,436.1 1076.5,435.8 1077.5,433.0 1078.5,439.6 1079.5,442.8 1080.5,435.8 1081.5,438.8 1082.5,444.7 1083.5,438.0 1084.5,444.4 1085.5,443.2 1086.5,439.4 1087.5,441.2 1088.5,434.6 1089.5,440.0 1090.5,442.9 1091.5,436.8 1092.5,434.8 1093.5,434.7 1094.5,436.3 1095.5,437.3 1096.5,444.0 1097.5,440.0 1098.5,441.0 1099.5,438.5 1100.5,438.4 1101.5,441.4 1102.5,443.8 1103.5,437.2 1104.5,440.3 1105.5,442.8 1106.5,446.6 1107.5,438.6 1108.5,440.1 1109.5,442.2 1110.5,437.3 1111.5,442.9 1112.5,447.2 1113.5,439.1 1114.5,441.6 1115.5,437.4 1116.5,442.2 1117.5,447.6 1118.5,442.6 1119.5,438.8 1120.5,440.0 1121.5,443.8 1122.5,446.6 1123.5,441.9 1124.5,442.4 1125.5,446.3 1126.5,438.0 1127.5,448.1 1128.5,442.4 1129.5,440.9 1130.5,446.3 1131.5,440.2 1132.5,439.0 1133.5,440.4 1134.5,445.4 1135.5,438.7 1136.5,443.0 1137.5,440.5 1138.5,444.3 1139.5,439.5 1140.5,447.2 1141.5,449.1 1142.5,442.0 1143.5,442.5 1144.5,445.5 1145.5,447.3 1146.5,439.3 1147.5,446.8 1148.5,448.5 1149.5,448.4 1150.5,444.3 1151.5,449.0 1152.5,445.8 1153.5,441.6 1154.5,442.9 1155.5,446.8 1156.5,446.4 1157.5,449.6 1158.5,448.7 1159.5,442.8 1160.5,445.2 1161.5,449.9 1162.5,446.3 1163.5,443.7 1164.5,452.5 1165.5,446.8 1166.5,445.4 1167.5,448.1 1168.5,445.8 1169.5,445.7 1170.5,450.7 1171.5,452.6 1172.5,448.2 1173.5,445.5 1174.5,449.6 1175.5,449.0 1176.5,449.7 1177.5,447.6 1178.5,454.4 1179.5,447.8 1180.5,446.1 1181.5,454.5 1182.5,455.4 1183.5,449.6 1184.5,449.1 1185.5,454.4 1186.5,458.9 1187.5,451.1 1188.5,454.9 1189.5,451.8 1190.5,458.0 1191.5,454.9 1192.5,454.2 1193.5,457.9 1194.5,456.7 1195.5,452.9 1196.5,455.8 1197.5,462.8 1198.5,461.1 1199.5,457.8 1200.5,460.0 1201.5,453.8 1202.5,457.4 1203.5,463.7 1204.5,455.2 1205.5,465.3 1206.5,463.9 1207.5,462.2 1208.5,458.6 1209.5,455.3 1210.5,458.1 1211.5,463.9 1212.5,460.2 1213.5,465.3 1214.5,458.2 1215.5,466.1 1216.5,466.8 1217.5,465.4 1218.5,459.2 1219.5,459.8 1220.5,458.1 1221.5,458.3 1222.5,467.2 1223.5,464.4 1224.5,468.1 1225.5,462.5 1226.5,463.6 1227.5,470.8 1228.5,472.5 1229.5,461.6 1230.5,470.5 1231.5,468.1 1232.5,461.5 1233.5,469.6 1234.5,465.8 1235.5,467.1 1236.5,475.2 1237.5,472.8 1238.5,464.6 1239.5,472.9 1240.5,464.9 1241.5,476.3 1242.5,473.1 1243.5,474.0 1244.5,466.7 1245.5,468.0 1246.5,474.0 1247.5,472.6 1248.5,478.6 1249.5,472.3 1250.5,474.2 1251.5,471.2 1252.5,476.5 1253.5,482.7 1254.5,474.4 1255.5,481.5 1256.5,474.1 1257.5,483.7 1258.5,479.4 1259.5,475.0 1260.5,483.8 1261.5,485.7 1262.5,476.7 1263.5,476.8 1264.5,479.0 1265.5,482.9 1266.5,488.9 1267.5,488.3 1268.5,482.0 1269.5,478.8 1270.5,486.4 1271.5,486.7 1272.5,482.9 1273.5,488.1 1274.5,493.5 1275.5,483.3 1276.5,486.0 1277.5,493.3 1278.5,485.0 1279.5,485.2 1280.5,486.3 1281.5,494.5 1282.5,486.8 1283.5,486.9 1284.5,494.3 1285.5,496.7 1286.5,497.1 1287.5,493.5 1288.5,500.3 1289.5,490.9 1290.5,495.3 1291.5,494.9 1292.5,497.8 1293.5,493.8 1294.5,493.7 1295.5,505.2 1296.5,496.9 1297.5,500.0 1298.5,506.0 1299.5,498.7 1300.5,500.1 1301.5,503.2 1302.5,497.4 1303.5,497.4 1304.5,505.9 1305.5,503.1 1306.5,499.9 1307.5,503.2 1308.5,509.1 1309.5,510.6 1310.5,507.9 1311.5,504.8 1312.5,513.4 1313.5,505.8 1314.5,513.6 1315.5,506.4 1316.5,517.1 1317.5,515.7 1318.5,512.8 1319.5,512.5 1320.5,514.9 1321.5,516.7 1322.5,516.0 1323.5,518.4 1324.5,511.1 1325.5,516.0 1326.5,521.0 1327.5,517.6 1328.5,525.1 1329.5,520.1 1330.5,517.8 1331.5,526.0 1332.5,520.5 1333.5,522.8 1334.5,524.7 1335.5,528.1 1336.5,520.3 1337.5,529.6 1338.5,526.4 1339.5,524.4 1340.5,524.6 1341.5,533.7 1342.5,533.9 1343.5,529.4 1344.5,527.4 1345.5,536.3 1346.5,524.5 1347.5,525.7 1348.5,532.0 1349.5,534.1 1350.5,527.2 1351.5,530.3 1352.5,529.7 1353.5,532.6 1354.5,532.4 1355.5,532.4 1356.5,533.2 1357.5,537.1 1358.5,534.7 1359.5,543.9 1360.5,539.9 1361.5,536.9 1362.5,544.7 1363.5,547.3 1364.5,542.5 1365.5,538.7 1366.5,547.9 1367.5,550.1 1368.5,552.7 1369.5,551.3 1370.5,550.7 1371.5,548.3 1372.5,547.9 1373.5,546.4 1374.5,557.2 1375.5,554.7 1376.5,552.1 1377.5,550.9 1378.5,554.0 1379.5,561.1 1380.5,555.0 1381.5,553.9 1382.5,559.1 1383.5,559.6 1384.5,565.3 1385.5,564.5 1386.5,564.4 1387.5,572.0 1388.5,571.4 1389.5,563.1 1390.5,565.8 1391.5,569.1 1392.5,565.6 1393.5,575.7 1394.5,576.9 1395.5,571.9 1396.5,581.0 1397.5,577.5 1398.5,574.4 1399.5,580.7 1400.5,582.6 1401.5,584.3 1402.5,588.8 1403.5,589.3 1404.5,584.0 1405.5,585.4 1406.5,581.4 1407.5,587.7 1408.5,585.8 1409.5,586.3 1410.5,596.7 1411.5,587.6 1412.5,590.3 1413.5,598.5 1414.5,598.6 1415.5,598.1 1416.5,604.3 1417.5,598.2 1418.5,599.2 1419.5,604.6 1420.5,600.8 1421.5,609.8 1422.5,614.6 1423.5,614.5 1424.5,617.1 1425.5,608.2 1426.5,614.4 1427.5,622.2 1428.5,623.1 1429.5,621.5 1430.5,624.0 1431.5,620.6 1432.5,622.2 1433.5,621.2 1434.5,633.7 1435.5,627.2 1436.5,637.9 1437.5,626.6 1438.5,638.3 1439.5,636.2 1440.5,631.4 1441.5,640.9 1442.5,642.8 1443.5,644.2 1444.5,645.5 1445.5,646.7 1446.5,649.2 1447.5,645.6 1448.5,654.5 1449.5,649.7 1450.5,648.2 1451.5,659.0 1452.5,651.1 1453.5,654.6 1454.5,659.3 1455.5,662.0 1456.5,657.2 1457.5,654.9 1458.5,663.4 1459.5,665.0 1460.5,668.3 1461.5,663.6 1462.5,672.4 1463.5,673.2 1464.5,675.8 1465.5,675.9 1466.5,676.3 1467.5,676.2 1468.5,681.6 1469.5,674.9 1470.5,682.1 1471.5,685.2 1472.5,686.4 1473.5,679.5 1474.5,683.4 1475.5,692.9 1476.5,692.4 1477.5,685.8 1478.5,691.6 1479.5,697.4 1480.5,699.5 1481.5,696.6 1482.5,692.7 1483.5,695.8 1484.5,694.8 1485.5,698.1 1486.5,698.3 1487.5,708.2 1488.5,709.8 1489.5,708.0 1490.5,715.3 1491.5,707.3 1492.5,709.5 1493.5,716.6 1494.5,717.1 1495.5,713.5 1496.5,725.3 1497.5,723.3 1498.5,724.7 1499.5,723.4 1500.5,728.1 1501.5,722.9 1502.5,727.6 1503.5,733.7 1504.5,735.0 1505.5,735.8 1506.5,731.5 1507.5,736.8 1508.5,747.2 1509.5,748.5 1510.5,748.7 1511.5,740.8 1512.5,742.7 1513.5,746.4 1514.5,756.2 1515.5,750.0 1516.5,752.1 1517.5,754.4 1518.5,762.4 1519.5,761.5 1520.5,767.7 1521.5,759.3 1522.5,760.9 1523.5,772.8 1524.5,765.2 1525.5,774.7 1526.5,775.0 1527.5,771.8 1528.5,774.2 1529.5,781.9 1530.5,774.9 1531.5,788.0 1532.5,778.7 1533.5,781.9 1534.5,789.4 1535.5,784.9 1536.5,797.1 1537.5,792.2 1538.5,789.8 1539.5,792.7 1540.5,798.9 1541.5,804.5 1542.5,799.3 1543.5,802.8 1544.5,806.6 1545.5,809.5 1546.5,812.2 1547.5,809.8 1548.5,812.3 1549.5,819.8 1550.5,822.2 1551.5,819.1 1552.5,827.4 1553.5,820.8 1554.5,829.8 1555.5,832.9 1556.5,831.4 1557.5,834.9 1558.5,830.6 1559.5,840.7 1560.5,841.2 1561.5,842.3 1562.5,844.4 1563.5,842.3 1564.5,851.2 1565.5,850.1 1566.5,852.9 1567.5,850.8 1568.5,857.3 1569.5,855.7 1570.5,862.7 1571.5,857.9 1572.5,860.9 1573.5,863.8 1574.5,867.6 1575.5,873.9 1576.5,868.3 1577.5,875.3 1578.5,872.7 1579.5,877.9 1580.5,879.2 1581.5,880.2 1582.5,885.0 1583.5,885.9 1584.5,887.3 1585.5,892.3 1586.5,891.3 1587.5,899.4 1588.5,895.6 1589.5,903.7 1590.5,899.2 1591.5,907.7 1592.5,902.6 1593.5,904.2 1594.5,907.1 1595.5,914.3 1596.5,912.4 1597.5,915.0 1598.5,920.6 1599.5,917.3 1600.5,924.0 1601.5,925.3 1602.5,925.8 1603.5,935.3 1604.5,933.3 1605.5,935.5 1606.5,942.0 1607.5,946.1 1608.5,942.7 1609.5,943.9 1610.5,953.8 1611.5,950.9 1612.5,953.8 1613.5,955.0 1614.5,960.4 1615.5,958.5 1616.5,963.6 1617.5,963.2 1618.5,960.8 1619.5,967.1 1620.5,972.5 1621.5,971.3 1622.5,971.9 1623.5,970.2 1624.5,979.0 1625.5,977.9 1626.5,979.3 1627.5,981.8 1628.5,984.3 1629.5,985.6 1630.5,987.4 1631.5,991.2 1632.5,989.2 1633.5,993.1 1634.5,997.4 1635.5,1003.9 1636.5,1001.3 1637.5,1004.6 1638.5,1010.0 1639.5,1011.1 1640.5,1012.1 1641.5,1013.1 1642.5,1014.9 1643.5,1012.8 1644.5,1014.2 1645.5,1015.4 1646.5,1017.8 1647.5,1025.0 1648.5,1026.9 1649.5,1023.2 1650.5,1033.2 1651.5,1031.2 1652.5,1034.2 1653.5,1031.6 1654.5,1041.4 1655.5,1035.6 1656.5,1039.0 1657.5,1043.5 1658.5,1045.9 1659.5,1048.3 1660.5,1054.4 1661.5,1047.5 1662.5,1056.0 1663.5,1055.7 1664.5,1061.6 1665.5,1062.2 1666.5,1065.8 1667.5,1068.3 1668.5,1069.6 1669.5,1065.1 1670.5,1071.2 1671.5,1075.5 1672.5,1077.5 1673.5,1081.0 1674.5,1077.9 1675.5,1075.7 1676.5,1084.9 1677.5,1082.3 1678.5,1088.0 1679.5,1083.8 1680.5,1088.8 1681.5,1093.4 1682.5,1090.2 1683.5,1093.9 1684.5,1093.9 1685.5,1103.1 1686.5,1103.7 1687.5,1104.0 1688.5,1104.5 1689.5,1110.8 1690.5,1105.3 1691.5,1111.4 1692.5,1106.9 1693.5,1113.8 1694.5,1111.3 1695.5,1111.1 1696.5,1121.1 1697.5,1116.8 1698.5,1124.8 1699.5,1123.4 1700.5,1124.8 1701.5,1126.2 1702.5,1130.3 1703.5,1125.1 1704.5,1132.9 1705.5,1128.6 1706.5,1128.1 1707.5,1136.1 1708.5,1130.8 1709.5,1135.1 1710.5,1139.1 1711.5,1136.0 1712.5,1140.6 1713.5,1141.2 1714.5,1142.7 1715.5,1139.9 1716.5,1145.0 1717.5,1147.0 1718.5,1143.3 1719.5,1149.8 1720.5,1150.8 1721.5,1147.6 1722.5,1152.7 1723.5,1153.5 1724.5,1149.4 1725.5,1154.2 1726.5,1156.4 1727.5,1156.5 1728.5,1153.4 1729.5,1155.9 1730.5,1157.6 1731.5,1157.5 1732.5,1158.4 1733.5,1157.8 1734.5,1158.2 1735.5,1160.5 1736.5,1161.9 1737.5,1163.4 1738.5,1165.9 1739.5,1162.8 1740.5,1164.7 1741.5,1167.7 1742.5,1168.2 1743.5,1165.8 1744.5,1168.9 1745.5,1167.0 1746.5,1171.4 1747.5,1169.0 1748.5,1171.1 1749.5,1171.2 1750.5,1172.0 1751.5,1171.3 1752.5,1172.5 1753.5,1172.8 1754.5,1174.8 1755.5,1174.5 1756.5,1175.8 1757.5,1176.2 1758.5,1177.3 1759.5,1179.2 1760.5,1177.9 1761.5,1178.6 1762.5,1179.5 1763.5,1179.8 1764.5,1179.8 1765.5,1179.8 1766.5,1181.5 1767.5,1181.0 1768.5,1183.2 1769.5,1184.7 1770.5,1184.9 1771.5,1185.4 1772.5,1183.6 1773.5,1183.4 1774.5,1184.6 1775.5,1186.5 1776.5,1185.2 1777.5,1185.6 1778.5,1189.5 1779.5,1187.5 1780.5,1186.8 1781.5,1188.9 1782.5,1190.0 1783.5,1189.5 1784.5,1188.7 1785.5,1190.5 1786.5,1189.2 1787.5,1192.1 1788.5,1193.2 1789.5,1190.2 1790.5,1192.6 1791.5,1193.9 1792.5,1193.5 1793.5,1192.0 1794.5,1192.1 1795.5,1193.8 1796.5,1192.7 1797.5,1195.8 1798.5,1195.0 1799.5,1194.5 1800.5,1196.5 1801.5,1194.8 1802.5,1196.1 1803.5,1196.4 1804.5,1195.2 1805.5,1198.0 1806.5,1197.9 1807.5,1196.3 1808.5,1197.4 1809.5,1197.3 1810.5,1199.8 1811.5,1199.1 1812.5,1200.3 1813.5,1200.0 1814.5,1200.3 1815.5,1198.8 1816.5,1201.0 1817.5,1199.4 1818.5,1201.5 1819.5,1201.3 1820.5,1200.8 1821.5,1199.8 1822.5,1201.6 1823.5,1202.0 1824.5,1202.4 1825.5,1200.4 1826.5,1201.3 1827.5,1202.7 1828.5,1203.9 1829.5,1201.9 1830.5,1204.5 1831.5,1205.0 1832.5,1202.1 1833.5,1204.6 1834.5,1203.6 1835.5,1202.9 1836.5,1203.4 1837.5,1204.2 1838.5,1203.1 1839.5,1205.8 1840.5,1205.1 1841.5,1205.0 1842.5,1207.1 1843.5,1207.6 1844.5,1206.0 1845.5,1205.7 1846.5,1207.0 1847.5,1206.5 1848.5,1208.4 1849.5,1206.5 1850.5,1206.1 1851.5,1205.9 1852.5,1206.7 1853.5,1206.6 1854.5,1209.7 1855.5,1209.1 1856.5,1208.9 1857.5,1210.4 1858.5,1209.5 1859.5,1210.0 1860.5,1208.2 1861.5,1208.8 1862.5,1210.2 1863.5,1211.2 1864.5,1209.3 1865.5,1210.1 1866.5,1209.7 1867.5,1209.9 1868.5,1211.0 1869.5,1212.4 1870.5,1212.8 1871.5,1211.5 1872.5,1209.7 1873.5,1210.7 1874.5,1212.2 1875.5,1213.3 1876.5,1210.7 1877.5,1213.3 1878.5,1213.6 1879.5,1210.9 1880.5,1213.9 1881.5,1212.9 1882.5,1213.9 1883.5,1213.4 1884.5,1213.6 1885.5,1214.4 1886.5,1214.1 1887.5,1212.9 1888.5,1213.0 1889.5,1215.2 1890.5,1212.8 1891.5,1213.3 1892.5,1212.5 1893.5,1213.3 1894.5,1214.3 1895.5,1213.0 1896.5,1214.0 1897.5,1214.7 1898.5,1214.0 1899.5,1215.4 1900.5,1214.7 1901.5,1214.1 1902.5,1215.6 1903.5,1215.1 1904.5,1214.8 1905.5,1213.9 1906.5,1217.0 1907.5,1214.1 1908.5,1215.0 1909.5,1215.8 1910.5,1217.1 1911.5,1215.0 1912.5,1214.4 1913.5,1216.6 1914.5,1217.6 1915.5,1215.9 1916.5,1217.9 1917.5,1215.6 1918.5,1217.7 1919.5,1214.6 1920.5,1217.2 1921.5,1218.0 1922.5,1215.9 1923.5,1218.1 1924.5,1217.3 1925.5,1216.4 1926.5,1215.5 1927.5,1217.8 1928.5,1216.9 1929.5,1217.6 1930.5,1216.5 1931.5,1215.9 1932.5,1216.3 1933.5,1218.4 1934.5,1216.6 1935.5,1217.4 1936.5,1218.5 1937.5,1217.5 1938.5,1218.3 1939.5,1218.2 1940.5,1219.6 1941.5,1218.4 1942.5,1218.1 1943.5,1220.7 1944.5,1217.9 1945.5,1219.7 1946.5,1219.8 1947.5,1218.9 1948.5,1220.4 1949.5,1220.6 1950.5,1219.7 1951.5,1219.2 1952.5,1218.6 1953.5,1221.4 1954.5,1221.9 1955.5,1219.5 1956.5,1219.8 1957.5,1221.0 1958.5,1221.6 1959.5,1222.0 1960.5,1221.8 1961.5,1221.6 1962.5,1221.5 1963.5,1219.4 1964.5,1221.2 1965.5,1222.1 1966.5,1220.7 1967.5,1220.6 1968.5,1221.3 1969.5,1221.9 1970.5,1220.1 1971.5,1222.9 1972.5,1222.8 1973.5,1221.2 1974.5,1221.3 1975.5,1221.2 1976.5,1222.1 1977.5,1224.2 1978.5,1222.2 1979.5,1224.2 1980.5,1221.6 1981.5,1221.9 1982.5,1223.0 1983.5,1221.8 1984.5,1221.7 1985.5,1223.8 1986.5,1222.7 1987.5,1224.1 1988.5,1222.5 1989.5,1222.8 1990.5,1225.0 1991.5,1224.0 1992.5,1222.4 1993.5,1223.6 1994.5,1222.5 1995.5,1222.4 1996.5,1224.3 1997.5,1222.8 1998.5,1223.2 1999.5,1222.8 2000.5,1223.0 2001.5,1224.3 2002.5,1223.4 2003.5,1224.0 2004.5,1224.5 2005.5,1223.7 2006.5,1223.6 2007.5,1223.8 2008.5,1226.7 2009.5,1224.7 2010.5,1225.2 2011.5,1226.3 2012.5,1226.5 2013.5,1226.3 2014.5,1227.1 2015.5,1226.0 2016.5,1224.7 2017.5,1226.5 2018.5,1226.0 2019.5,1227.5 2020.5,1225.5 2021.5,1227.2 2022.5,1225.0 2023.5,1226.5 2024.5,1226.5 2025.5,1225.7 2026.5,1228.5 2027.5,1228.7 2028.5,1226.8 2029.5,1228.6 2030.5,1229.5 2031.5,1228.5 2032.5,1227.9 2033.5,1229.2 2034.5,1228.4 2035.5,1229.2 2036.5,1229.7 2037.5,1228.5 2038.5,1230.0 2039.5,1229.6 2040.5,1230.1 2041.5,1229.2 2042.5,1231.0 2043.5,1229.0 2044.5,1230.3 2045.5,1230.6 2046.5,1228.9 2047.5,1231.8 2048.5,1231.0 2049.5,1229.4 2050.5,1232.3 2051.5,1231.9 2052.5,1232.7 2053.5,1232.0 2054.5,1231.4 2055.5,1232.5 2056.5,1231.0 2057.5,1231.4 2058.5,1231.1 2059.5,1231.1 2060.5,1233.4 2061.5,1231.9 2062.5,1231.9 2063.5,1231.5 2064.5,1231.4 2065.5,1231.1 2066.5,1233.8 2067.5,1233.1 2068.5,1232.2 2069.5,1232.7 2070.5,1233.6 2071.5,1232.0 2072.5,1231.7 2073.5,1232.5 2074.5,1232.5 2075.5,1233.9 2076.5,1234.2 2077.5,1234.1 2078.5,1233.6 2079.5,1233.1 2080.5,1231.9 2081.5,1234.7 2082.5,1234.5 2083.5,1233.4 2084.5,1234.3 2085.5,1234.9 2086.5,1232.8 2087.5,1233.9 2088.5,1235.4 2089.5,1232.8 2090.5,1232.6 2091.5,1235.6 2092.5,1235.4 2093.5,1232.6 2094.5,1234.6 2095.5,1234.9 2096.5,1235.3 2097.5,1235.0 2098.5,1234.9 2099.5,1235.2 2100.5,1235.3 2101.5,1233.5 2102.5,1233.9 2103.5,1234.4 2104.5,1236.8 2105.5,1235.3 2106.5,1235.9 2107.5,1237.2 2108.5,1234.2 2109.5,1234.6 2110.5,1235.0 2111.5,1237.4 2112.5,1236.8 2113.5,1234.7 2114.5,1234.6 2115.5,1235.0 2116.5,1237.8 2117.5,1236.1 2118.5,1237.8 2119.5,1237.7 2120.5,1238.2 2121.5,1236.8 2122.5,1235.8 2123.5,1236.8 2124.5,1238.2 2125.5,1238.4 2126.5,1236.4 2127.5,1236.8 2128.5,1238.0 2129.5,1236.5 2130.5,1236.0 2131.5,1236.2 2132.5,1236.9 2133.5,1236.1 2134.5,1238.0 2135.5,1237.7 2136.5,1238.7 2137.5,1238.0 2138.5,1237.0 2139.5,1236.1 2140.5,1236.3 2141.5,1238.7 2142.5,1237.8 2143.5,1235.9 2144.5,1237.4 2145.5,1238.4 2146.5,1238.5 2147.5,1238.7 2148.5,1239.0 2149.5,1237.4 2150.5,1238.1 2151.5,1236.0 2152.5,1238.2 2153.5,1237.7 2154.5,1236.6 2155.5,1236.8 2156.5,1238.4 2157.5,1236.7 2158.5,1237.2 2159.5,1237.3 2160.5,1238.7 2161.5,1236.7 2162.5,1236.3 2163.5,1236.7 2164.5,1238.7 2165.5,1236.3 2166.5,1238.1 2167.5,1238.0 2168.5,1237.5 2169.5,1237.5 2170.5,1238.2 2171.5,1236.5 2172.5,1237.4 2173.5,1237.8 2174.5,1236.8 2175.5,1238.2 2176.5,1237.5 2177.5,1236.6 2178.5,1236.9 2179.5,1237.6 2180.5,1238.8 2181.5,1239.3 2182.5,1238.2 2183.5,1236.7 2184.5,1238.7 2185.5,1239.8 2186.5,1236.8 2187.5,1237.8 2188.5,1236.7 2189.5,1238.7 2190.5,1237.0 2191.5,1240.0 2192.5,1238.1 2193.5,1238.9 2194.5,1237.9 2195.5,1237.9 2196.5,1236.8 2197.5,1239.9 2198.5,1237.7 2199.5,1237.7 2200.5,1238.1 2201.5,1237.5 2202.5,1238.0 2203.5,1237.9 2204.5,1240.4 2205.5,1240.0 2206.5,1237.9 2207.5,1239.9 2208.5,1237.1 2209.5,1239.0 2210.5,1240.1 2211.5,1237.7 2212.5,1237.5 2213.5,1239.8 2214.5,1239.3 2215.5,1240.5 2216.5,1237.6 2217.5,1237.6 2218.5,1237.2 2219.5,1238.2 2220.5,1237.2 2221.5,1239.3 2222.5,1237.4 2223.5,1238.7 2224.5,1238.9 2225.5,1237.4 2226.5,1239.6 2227.5,1240.7 2228.5,1238.5 2229.5,1239.0 2230.5,1238.5 2231.5,1240.7 2232.5,1240.2 2233.5,1240.6 2234.5,1238.5 2235.5,1238.3 2236.5,1237.2 2237.5,1237.4 2238.5,1240.6 2239.5,1239.3 2240.5,1238.8 2241.5,1237.8 2242.5,1240.6 2243.5,1237.3 2244.5,1239.5 2245.5,1239.4 2246.5,1239.8 2247.5,1239.9 2248.5,1239.6 2249.5,1239.2 2250.5,1238.8 2251.0,1240.1"/>
</g>
<g fill="none" stroke="#a0a0a0" stroke-width="8.3">
<circle cx="245.5" cy="422.5" r="16.1"/>
<circle cx="300.9" cy="422.7" r="16.1"/>
<circle cx="356.3" cy="423.0" r="16.1"/>
<circle cx="411.7" cy="423.3" r="16.1"/>
<circle cx="467.1" cy="423.8" r="16.1"/>
<circle cx="522.5" cy="424.4" r="16.1"/>
<circle cx="577.9" cy="425.2" r="16.1"/>
<circle cx="633.3" cy="426.3" r="16.1"/>
<circle cx="688.7" cy="427.8" r="16.1"/>
<circle cx="744.1" cy="429.7" r="16.1"/>
<circle cx="799.5" cy="432.4" r="16.1"/>
<circle cx="854.9" cy="435.9" r="16.1"/>
<circle cx="910.3" cy="440.6" r="16.1"/>
<circle cx="965.7" cy="446.9" r="16.1"/>
<circle cx="1021.1" cy="455.3" r="16.1"/>
<circle cx="1076.5" cy="466.4" r="16.1"/>
<circle cx="1131.9" cy="481.1" r="16.1"/>
<circle cx="1187.3" cy="500.4" r="16.1"/>
<circle cx="1242.7" cy="525.5" r="16.1"/>
<circle cx="1298.1" cy="557.9" r="16.1"/>
<circle cx="1353.4" cy="599.2" r="16.1"/>
<circle cx="1408.8" cy="650.7" r="16.1"/>
<circle cx="1464.2" cy="713.4" r="16.1"/>
<circle cx="1519.6" cy="787.3" r="16.1"/>
<circle cx="1575.0" cy="870.5" r="16.1"/>
<circle cx="1630.4" cy="958.7" r="16.1"/>
<circle cx="1685.8" cy="1044.9" r="16.1"/>
<circle cx="1741.2" cy="1120.6" r="16.1"/>
<circle cx="1796.6" cy="1178.1" r="16.1"/>
<circle cx="1852.0" cy="1214.2" r="16.1"/>
<circle cx="1907.4" cy="1231.7" r="16.1"/>
<circle cx="1962.8" cy="1237.8" r="16.1"/>
<circle cx="2018.2" cy="1239.1" r="16.1"/>
<circle cx="2073.6" cy="1239.3" r="16.1"/>
<circle cx="2129.0" cy="1239.3" r="16.1"/>
<circle cx="2184.4" cy="1239.3" r="16.1"/>
<circle cx="2239.8" cy="1239.3" r="16.1"/>
<circle cx="2295.2" cy="1239.3" r="16.1"/>
<circle cx="2350.6" cy="1239.3" r="16.1"/>
<circle cx="2406.0" cy="1239.3" r="16.1"/>
</g>
<text transform="translate(178.8,88.0) scale(1,1.040)" font-size="75" text-anchor="start"><tspan dx="3.0">1</tspan></text>
<text transform="translate(178.8,459.5) scale(1,1.040)" font-size="75" text-anchor="start">0</text>
<text transform="translate(153.8,831.0) scale(1,1.040)" font-size="75" text-anchor="start">-<tspan dx="3.0">1</tspan></text>
<text transform="translate(153.8,1202.5) scale(1,1.040)" font-size="75" text-anchor="start">-2</text>
<text transform="translate(153.8,1574.0) scale(1,1.040)" font-size="75" text-anchor="start">-3</text>
<text transform="translate(190.4,1655.0) scale(1,1.040)" font-size="75" text-anchor="start"><tspan dx="3.0">1</tspan><tspan dx="-3.0">0</tspan><tspan font-size="57" dy="-30" dx="2.0">1</tspan></text>
<text transform="translate(622.5,1655.0) scale(1,1.040)" font-size="75" text-anchor="start"><tspan dx="3.0">1</tspan><tspan dx="-3.0">0</tspan><tspan font-size="57" dy="-30">2</tspan></text>
<text transform="translate(1054.6,1655.0) scale(1,1.040)" font-size="75" text-anchor="start"><tspan dx="3.0">1</tspan><tspan dx="-3.0">0</tspan><tspan font-size="57" dy="-30">3</tspan></text>
<text transform="translate(1486.7,1655.0) scale(1,1.040)" font-size="75" text-anchor="start"><tspan dx="3.0">1</tspan><tspan dx="-3.0">0</tspan><tspan font-size="57" dy="-30">4</tspan></text>
<text transform="translate(1918.8,1655.0) scale(1,1.040)" font-size="75" text-anchor="start"><tspan dx="3.0">1</tspan><tspan dx="-3.0">0</tspan><tspan font-size="57" dy="-30">5</tspan></text>
<text transform="translate(2350.9,1655.0) scale(1,1.040)" font-size="75" text-anchor="start"><tspan dx="3.0">1</tspan><tspan dx="-3.0">0</tspan><tspan font-size="57" dy="-30">6</tspan></text>
<text transform="translate(1324.8,1752) scale(1.011,1.02)" font-size="75" text-anchor="middle">Time (s)</text>
<text transform="translate(85,794) rotate(-90) scale(1,1.020)" font-size="75" text-anchor="middle">Absorbance Change</text>
<rect x="1757.5" y="159.5" width="445" height="433" fill="#fff" stroke="#000" stroke-width="9"/>
<line x1="1784" y1="208.5" x2="1940" y2="208.5" stroke="#ff0000" stroke-width="9" stroke-dasharray="14 9.7"/>
<line x1="1784" y1="291.4" x2="1940" y2="291.4" stroke="#0000ff" stroke-width="9" stroke-dasharray="14 9.7"/>
<line x1="1784" y1="374.3" x2="1940" y2="374.3" stroke="#008000" stroke-width="9" stroke-dasharray="14 9.7"/>
<line x1="1784" y1="457.2" x2="1948" y2="457.2" stroke="#000" stroke-width="9"/>
<circle cx="1865" cy="540.1" r="16" fill="none" stroke="#a0a0a0" stroke-width="8.2"/>
<text transform="translate(1998.6,230.0) scale(1,1.030)" font-size="67" text-anchor="start">Area<tspan dx="2.5">1</tspan></text>
<text transform="translate(1998.6,312.9) scale(1,1.030)" font-size="67" text-anchor="start">Area2</text>
<text transform="translate(1998.6,395.8) scale(1,1.030)" font-size="67" text-anchor="start">Area3</text>
<text transform="translate(1998.6,478.7) scale(1,1.030)" font-size="67" text-anchor="start">Area4</text>
<text transform="translate(1998.6,561.6) scale(1,1.030)" font-size="67" text-anchor="start">Fit</text>
<g fill="#fff"><rect x="186.18" y="80" width="14.47" height="9"/><rect x="207.28" y="80" width="13.88" height="9"/><rect x="186.18" y="823" width="14.47" height="9"/><rect x="207.28" y="823" width="13.88" height="9"/><rect x="197.83" y="1647" width="14.47" height="9"/><rect x="218.93" y="1647" width="13.88" height="9"/><rect x="279.20" y="1619" width="10.99" height="7"/><rect x="295.23" y="1619" width="10.55" height="7"/><rect x="629.93" y="1647" width="14.47" height="9"/><rect x="651.03" y="1647" width="13.88" height="9"/><rect x="1062.03" y="1647" width="14.47" height="9"/><rect x="1083.13" y="1647" width="13.88" height="9"/><rect x="1494.13" y="1647" width="14.47" height="9"/><rect x="1515.23" y="1647" width="13.88" height="9"/><rect x="1926.23" y="1647" width="14.47" height="9"/><rect x="1947.33" y="1647" width="13.88" height="9"/><rect x="2358.33" y="1647" width="14.47" height="9"/><rect x="2379.43" y="1647" width="13.88" height="9"/><rect x="2146.55" y="223" width="12.92" height="8"/><rect x="2165.39" y="223" width="12.40" height="8"/></g>
</svg>
</body></html>
